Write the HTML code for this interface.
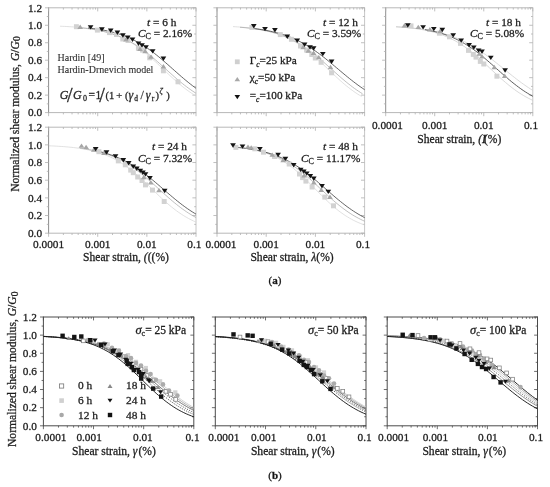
<!DOCTYPE html>
<html><head><meta charset="utf-8"><title>Figure</title>
<style>html,body{margin:0;padding:0;background:#fff}svg{display:block}text{font-family:"Liberation Serif",serif;stroke:#222;stroke-width:0.28px}</style>
</head><body>
<svg width="550" height="487" viewBox="0 0 550 487">
<rect width="550" height="487" fill="#fff"/>
<g stroke-linecap="butt" fill="none">
<line x1="48.60" y1="7.30" x2="48.60" y2="113.10" stroke="#8e8e8e" stroke-width="1.0"/>
<line x1="48.60" y1="7.80" x2="196.00" y2="7.80" stroke="#b8b8b8" stroke-width="1.0"/>
<line x1="196.00" y1="7.30" x2="196.00" y2="113.10" stroke="#c6c6c6" stroke-width="1.0"/>
<line x1="48.60" y1="112.60" x2="196.00" y2="112.60" stroke="#b8b8b8" stroke-width="1.0"/>
<path d="M48.60 112.60v3.6 M48.60 7.80v3.6 M97.73 112.60v3.6 M97.73 7.80v3.6 M146.87 112.60v3.6 M146.87 7.80v3.6 M196.00 112.60v3.6 M196.00 7.80v3.6 M63.39 112.60v1.8 M63.39 7.80v1.8 M72.04 112.60v1.8 M72.04 7.80v1.8 M78.18 112.60v1.8 M78.18 7.80v1.8 M82.94 112.60v1.8 M82.94 7.80v1.8 M86.83 112.60v1.8 M86.83 7.80v1.8 M90.12 112.60v1.8 M90.12 7.80v1.8 M92.97 112.60v1.8 M92.97 7.80v1.8 M95.49 112.60v1.8 M95.49 7.80v1.8 M112.52 112.60v1.8 M112.52 7.80v1.8 M121.18 112.60v1.8 M121.18 7.80v1.8 M127.31 112.60v1.8 M127.31 7.80v1.8 M132.08 112.60v1.8 M132.08 7.80v1.8 M135.97 112.60v1.8 M135.97 7.80v1.8 M139.26 112.60v1.8 M139.26 7.80v1.8 M142.11 112.60v1.8 M142.11 7.80v1.8 M144.62 112.60v1.8 M144.62 7.80v1.8 M161.66 112.60v1.8 M161.66 7.80v1.8 M170.31 112.60v1.8 M170.31 7.80v1.8 M176.45 112.60v1.8 M176.45 7.80v1.8 M181.21 112.60v1.8 M181.21 7.80v1.8 M185.10 112.60v1.8 M185.10 7.80v1.8 M188.39 112.60v1.8 M188.39 7.80v1.8 M191.24 112.60v1.8 M191.24 7.80v1.8 M193.75 112.60v1.8 M193.75 7.80v1.8 M48.60 7.80h-3.6 M196.00 7.80h-3.6 M48.60 16.53h-1.8 M196.00 16.53h-1.8 M48.60 25.27h-3.6 M196.00 25.27h-3.6 M48.60 34.00h-1.8 M196.00 34.00h-1.8 M48.60 42.73h-3.6 M196.00 42.73h-3.6 M48.60 51.47h-1.8 M196.00 51.47h-1.8 M48.60 60.20h-3.6 M196.00 60.20h-3.6 M48.60 68.93h-1.8 M196.00 68.93h-1.8 M48.60 77.67h-3.6 M196.00 77.67h-3.6 M48.60 86.40h-1.8 M196.00 86.40h-1.8 M48.60 95.13h-3.6 M196.00 95.13h-3.6 M48.60 103.87h-1.8 M196.00 103.87h-1.8 M48.60 112.60h-3.6 M196.00 112.60h-3.6" stroke="#b0b0b0" stroke-width="0.80"/>
</g>
<g stroke-linecap="butt" fill="none">
<line x1="217.00" y1="7.30" x2="217.00" y2="113.10" stroke="#8e8e8e" stroke-width="1.0"/>
<line x1="217.00" y1="7.80" x2="364.60" y2="7.80" stroke="#b8b8b8" stroke-width="1.0"/>
<line x1="364.60" y1="7.30" x2="364.60" y2="113.10" stroke="#c6c6c6" stroke-width="1.0"/>
<line x1="217.00" y1="112.60" x2="364.60" y2="112.60" stroke="#b8b8b8" stroke-width="1.0"/>
<path d="M217.00 112.60v3.6 M217.00 7.80v3.6 M266.20 112.60v3.6 M266.20 7.80v3.6 M315.40 112.60v3.6 M315.40 7.80v3.6 M364.60 112.60v3.6 M364.60 7.80v3.6 M231.81 112.60v1.8 M231.81 7.80v1.8 M240.47 112.60v1.8 M240.47 7.80v1.8 M246.62 112.60v1.8 M246.62 7.80v1.8 M251.39 112.60v1.8 M251.39 7.80v1.8 M255.29 112.60v1.8 M255.29 7.80v1.8 M258.58 112.60v1.8 M258.58 7.80v1.8 M261.43 112.60v1.8 M261.43 7.80v1.8 M263.95 112.60v1.8 M263.95 7.80v1.8 M281.01 112.60v1.8 M281.01 7.80v1.8 M289.67 112.60v1.8 M289.67 7.80v1.8 M295.82 112.60v1.8 M295.82 7.80v1.8 M300.59 112.60v1.8 M300.59 7.80v1.8 M304.49 112.60v1.8 M304.49 7.80v1.8 M307.78 112.60v1.8 M307.78 7.80v1.8 M310.63 112.60v1.8 M310.63 7.80v1.8 M313.15 112.60v1.8 M313.15 7.80v1.8 M330.21 112.60v1.8 M330.21 7.80v1.8 M338.87 112.60v1.8 M338.87 7.80v1.8 M345.02 112.60v1.8 M345.02 7.80v1.8 M349.79 112.60v1.8 M349.79 7.80v1.8 M353.69 112.60v1.8 M353.69 7.80v1.8 M356.98 112.60v1.8 M356.98 7.80v1.8 M359.83 112.60v1.8 M359.83 7.80v1.8 M362.35 112.60v1.8 M362.35 7.80v1.8 M217.00 7.80h-3.6 M364.60 7.80h-3.6 M217.00 16.53h-1.8 M364.60 16.53h-1.8 M217.00 25.27h-3.6 M364.60 25.27h-3.6 M217.00 34.00h-1.8 M364.60 34.00h-1.8 M217.00 42.73h-3.6 M364.60 42.73h-3.6 M217.00 51.47h-1.8 M364.60 51.47h-1.8 M217.00 60.20h-3.6 M364.60 60.20h-3.6 M217.00 68.93h-1.8 M364.60 68.93h-1.8 M217.00 77.67h-3.6 M364.60 77.67h-3.6 M217.00 86.40h-1.8 M364.60 86.40h-1.8 M217.00 95.13h-3.6 M364.60 95.13h-3.6 M217.00 103.87h-1.8 M364.60 103.87h-1.8 M217.00 112.60h-3.6 M364.60 112.60h-3.6" stroke="#b0b0b0" stroke-width="0.80"/>
</g>
<g stroke-linecap="butt" fill="none">
<line x1="385.70" y1="7.30" x2="385.70" y2="113.10" stroke="#8e8e8e" stroke-width="1.0"/>
<line x1="385.70" y1="7.80" x2="532.80" y2="7.80" stroke="#b8b8b8" stroke-width="1.0"/>
<line x1="532.80" y1="7.30" x2="532.80" y2="113.10" stroke="#c6c6c6" stroke-width="1.0"/>
<line x1="385.70" y1="112.60" x2="532.80" y2="112.60" stroke="#b8b8b8" stroke-width="1.0"/>
<path d="M385.70 112.60v3.6 M385.70 7.80v3.6 M434.73 112.60v3.6 M434.73 7.80v3.6 M483.77 112.60v3.6 M483.77 7.80v3.6 M532.80 112.60v3.6 M532.80 7.80v3.6 M400.46 112.60v1.8 M400.46 7.80v1.8 M409.09 112.60v1.8 M409.09 7.80v1.8 M415.22 112.60v1.8 M415.22 7.80v1.8 M419.97 112.60v1.8 M419.97 7.80v1.8 M423.86 112.60v1.8 M423.86 7.80v1.8 M427.14 112.60v1.8 M427.14 7.80v1.8 M429.98 112.60v1.8 M429.98 7.80v1.8 M432.49 112.60v1.8 M432.49 7.80v1.8 M449.49 112.60v1.8 M449.49 7.80v1.8 M458.13 112.60v1.8 M458.13 7.80v1.8 M464.25 112.60v1.8 M464.25 7.80v1.8 M469.01 112.60v1.8 M469.01 7.80v1.8 M472.89 112.60v1.8 M472.89 7.80v1.8 M476.17 112.60v1.8 M476.17 7.80v1.8 M479.01 112.60v1.8 M479.01 7.80v1.8 M481.52 112.60v1.8 M481.52 7.80v1.8 M498.53 112.60v1.8 M498.53 7.80v1.8 M507.16 112.60v1.8 M507.16 7.80v1.8 M513.29 112.60v1.8 M513.29 7.80v1.8 M518.04 112.60v1.8 M518.04 7.80v1.8 M521.92 112.60v1.8 M521.92 7.80v1.8 M525.20 112.60v1.8 M525.20 7.80v1.8 M528.05 112.60v1.8 M528.05 7.80v1.8 M530.56 112.60v1.8 M530.56 7.80v1.8 M385.70 7.80h-3.6 M532.80 7.80h-3.6 M385.70 16.53h-1.8 M532.80 16.53h-1.8 M385.70 25.27h-3.6 M532.80 25.27h-3.6 M385.70 34.00h-1.8 M532.80 34.00h-1.8 M385.70 42.73h-3.6 M532.80 42.73h-3.6 M385.70 51.47h-1.8 M532.80 51.47h-1.8 M385.70 60.20h-3.6 M532.80 60.20h-3.6 M385.70 68.93h-1.8 M532.80 68.93h-1.8 M385.70 77.67h-3.6 M532.80 77.67h-3.6 M385.70 86.40h-1.8 M532.80 86.40h-1.8 M385.70 95.13h-3.6 M532.80 95.13h-3.6 M385.70 103.87h-1.8 M532.80 103.87h-1.8 M385.70 112.60h-3.6 M532.80 112.60h-3.6" stroke="#b0b0b0" stroke-width="0.80"/>
</g>
<g stroke-linecap="butt" fill="none">
<line x1="48.60" y1="126.70" x2="48.60" y2="233.70" stroke="#8e8e8e" stroke-width="1.0"/>
<line x1="48.60" y1="127.20" x2="196.00" y2="127.20" stroke="#b8b8b8" stroke-width="1.0"/>
<line x1="196.00" y1="126.70" x2="196.00" y2="233.70" stroke="#c6c6c6" stroke-width="1.0"/>
<line x1="48.60" y1="233.20" x2="196.00" y2="233.20" stroke="#b8b8b8" stroke-width="1.0"/>
<path d="M48.60 233.20v3.6 M48.60 127.20v3.6 M97.73 233.20v3.6 M97.73 127.20v3.6 M146.87 233.20v3.6 M146.87 127.20v3.6 M196.00 233.20v3.6 M196.00 127.20v3.6 M63.39 233.20v1.8 M63.39 127.20v1.8 M72.04 233.20v1.8 M72.04 127.20v1.8 M78.18 233.20v1.8 M78.18 127.20v1.8 M82.94 233.20v1.8 M82.94 127.20v1.8 M86.83 233.20v1.8 M86.83 127.20v1.8 M90.12 233.20v1.8 M90.12 127.20v1.8 M92.97 233.20v1.8 M92.97 127.20v1.8 M95.49 233.20v1.8 M95.49 127.20v1.8 M112.52 233.20v1.8 M112.52 127.20v1.8 M121.18 233.20v1.8 M121.18 127.20v1.8 M127.31 233.20v1.8 M127.31 127.20v1.8 M132.08 233.20v1.8 M132.08 127.20v1.8 M135.97 233.20v1.8 M135.97 127.20v1.8 M139.26 233.20v1.8 M139.26 127.20v1.8 M142.11 233.20v1.8 M142.11 127.20v1.8 M144.62 233.20v1.8 M144.62 127.20v1.8 M161.66 233.20v1.8 M161.66 127.20v1.8 M170.31 233.20v1.8 M170.31 127.20v1.8 M176.45 233.20v1.8 M176.45 127.20v1.8 M181.21 233.20v1.8 M181.21 127.20v1.8 M185.10 233.20v1.8 M185.10 127.20v1.8 M188.39 233.20v1.8 M188.39 127.20v1.8 M191.24 233.20v1.8 M191.24 127.20v1.8 M193.75 233.20v1.8 M193.75 127.20v1.8 M48.60 127.20h-3.6 M196.00 127.20h-3.6 M48.60 136.03h-1.8 M196.00 136.03h-1.8 M48.60 144.87h-3.6 M196.00 144.87h-3.6 M48.60 153.70h-1.8 M196.00 153.70h-1.8 M48.60 162.53h-3.6 M196.00 162.53h-3.6 M48.60 171.37h-1.8 M196.00 171.37h-1.8 M48.60 180.20h-3.6 M196.00 180.20h-3.6 M48.60 189.03h-1.8 M196.00 189.03h-1.8 M48.60 197.87h-3.6 M196.00 197.87h-3.6 M48.60 206.70h-1.8 M196.00 206.70h-1.8 M48.60 215.53h-3.6 M196.00 215.53h-3.6 M48.60 224.37h-1.8 M196.00 224.37h-1.8 M48.60 233.20h-3.6 M196.00 233.20h-3.6" stroke="#b0b0b0" stroke-width="0.80"/>
</g>
<g stroke-linecap="butt" fill="none">
<line x1="217.00" y1="126.70" x2="217.00" y2="233.70" stroke="#8e8e8e" stroke-width="1.0"/>
<line x1="217.00" y1="127.20" x2="364.60" y2="127.20" stroke="#b8b8b8" stroke-width="1.0"/>
<line x1="364.60" y1="126.70" x2="364.60" y2="233.70" stroke="#c6c6c6" stroke-width="1.0"/>
<line x1="217.00" y1="233.20" x2="364.60" y2="233.20" stroke="#b8b8b8" stroke-width="1.0"/>
<path d="M217.00 233.20v3.6 M217.00 127.20v3.6 M266.20 233.20v3.6 M266.20 127.20v3.6 M315.40 233.20v3.6 M315.40 127.20v3.6 M364.60 233.20v3.6 M364.60 127.20v3.6 M231.81 233.20v1.8 M231.81 127.20v1.8 M240.47 233.20v1.8 M240.47 127.20v1.8 M246.62 233.20v1.8 M246.62 127.20v1.8 M251.39 233.20v1.8 M251.39 127.20v1.8 M255.29 233.20v1.8 M255.29 127.20v1.8 M258.58 233.20v1.8 M258.58 127.20v1.8 M261.43 233.20v1.8 M261.43 127.20v1.8 M263.95 233.20v1.8 M263.95 127.20v1.8 M281.01 233.20v1.8 M281.01 127.20v1.8 M289.67 233.20v1.8 M289.67 127.20v1.8 M295.82 233.20v1.8 M295.82 127.20v1.8 M300.59 233.20v1.8 M300.59 127.20v1.8 M304.49 233.20v1.8 M304.49 127.20v1.8 M307.78 233.20v1.8 M307.78 127.20v1.8 M310.63 233.20v1.8 M310.63 127.20v1.8 M313.15 233.20v1.8 M313.15 127.20v1.8 M330.21 233.20v1.8 M330.21 127.20v1.8 M338.87 233.20v1.8 M338.87 127.20v1.8 M345.02 233.20v1.8 M345.02 127.20v1.8 M349.79 233.20v1.8 M349.79 127.20v1.8 M353.69 233.20v1.8 M353.69 127.20v1.8 M356.98 233.20v1.8 M356.98 127.20v1.8 M359.83 233.20v1.8 M359.83 127.20v1.8 M362.35 233.20v1.8 M362.35 127.20v1.8 M217.00 127.20h-3.6 M364.60 127.20h-3.6 M217.00 136.03h-1.8 M364.60 136.03h-1.8 M217.00 144.87h-3.6 M364.60 144.87h-3.6 M217.00 153.70h-1.8 M364.60 153.70h-1.8 M217.00 162.53h-3.6 M364.60 162.53h-3.6 M217.00 171.37h-1.8 M364.60 171.37h-1.8 M217.00 180.20h-3.6 M364.60 180.20h-3.6 M217.00 189.03h-1.8 M364.60 189.03h-1.8 M217.00 197.87h-3.6 M364.60 197.87h-3.6 M217.00 206.70h-1.8 M364.60 206.70h-1.8 M217.00 215.53h-3.6 M364.60 215.53h-3.6 M217.00 224.37h-1.8 M364.60 224.37h-1.8 M217.00 233.20h-3.6 M364.60 233.20h-3.6" stroke="#b0b0b0" stroke-width="0.80"/>
</g>
<text x="42.10" y="11.53" text-anchor="end" font-size="11.3" fill="#1a1a1a">1.2</text>
<text x="42.10" y="29.00" text-anchor="end" font-size="11.3" fill="#1a1a1a">1.0</text>
<text x="42.10" y="46.46" text-anchor="end" font-size="11.3" fill="#1a1a1a">0.8</text>
<text x="42.10" y="63.93" text-anchor="end" font-size="11.3" fill="#1a1a1a">0.6</text>
<text x="42.10" y="81.40" text-anchor="end" font-size="11.3" fill="#1a1a1a">0.4</text>
<text x="42.10" y="98.86" text-anchor="end" font-size="11.3" fill="#1a1a1a">0.2</text>
<text x="42.10" y="116.33" text-anchor="end" font-size="11.3" fill="#1a1a1a">0.0</text>
<text x="42.10" y="130.93" text-anchor="end" font-size="11.3" fill="#1a1a1a">1.2</text>
<text x="42.10" y="148.60" text-anchor="end" font-size="11.3" fill="#1a1a1a">1.0</text>
<text x="42.10" y="166.26" text-anchor="end" font-size="11.3" fill="#1a1a1a">0.8</text>
<text x="42.10" y="183.93" text-anchor="end" font-size="11.3" fill="#1a1a1a">0.6</text>
<text x="42.10" y="201.60" text-anchor="end" font-size="11.3" fill="#1a1a1a">0.4</text>
<text x="42.10" y="219.26" text-anchor="end" font-size="11.3" fill="#1a1a1a">0.2</text>
<text x="42.10" y="236.93" text-anchor="end" font-size="11.3" fill="#1a1a1a">0.0</text>
<text x="387.50" y="129.33" text-anchor="middle" font-size="11.3" fill="#1a1a1a">0.0001</text>
<text x="434.73" y="129.33" text-anchor="middle" font-size="11.3" fill="#1a1a1a">0.001</text>
<text x="483.77" y="129.33" text-anchor="middle" font-size="11.3" fill="#1a1a1a">0.01</text>
<text x="531.00" y="129.33" text-anchor="middle" font-size="11.3" fill="#1a1a1a">0.1</text>
<text x="48.60" y="247.53" text-anchor="middle" font-size="11.3" fill="#1a1a1a">0.0001</text>
<text x="97.73" y="247.53" text-anchor="middle" font-size="11.3" fill="#1a1a1a">0.001</text>
<text x="146.87" y="247.53" text-anchor="middle" font-size="11.3" fill="#1a1a1a">0.01</text>
<text x="194.40" y="247.53" text-anchor="middle" font-size="11.3" fill="#1a1a1a">0.1</text>
<text x="221.00" y="247.53" text-anchor="middle" font-size="11.3" fill="#1a1a1a">0.0001</text>
<text x="266.20" y="247.53" text-anchor="middle" font-size="11.3" fill="#1a1a1a">0.001</text>
<text x="315.40" y="247.53" text-anchor="middle" font-size="11.3" fill="#1a1a1a">0.01</text>
<text x="363.00" y="247.53" text-anchor="middle" font-size="11.3" fill="#1a1a1a">0.1</text>
<text x="417.3" y="142.5" font-size="11.6" fill="#1a1a1a">Shear strain, <tspan font-style="italic">(I</tspan><tspan dx="-2">(%)</tspan></text>
<text x="83" y="261.4" font-size="11.6" fill="#1a1a1a">Shear strain, <tspan font-style="italic">(</tspan>((%)</text>
<text x="250.4" y="261.4" font-size="11.6" fill="#1a1a1a">Shear strain, <tspan font-style="italic">λ</tspan>(%)</text>
<text transform="translate(18.9,191.8) rotate(-90)" font-size="11.6" fill="#1a1a1a">Normalized shear modulus, <tspan font-style="italic">G</tspan>/<tspan font-style="italic">G</tspan><tspan font-size="9.5" dy="1.5">0</tspan></text>
<text x="147" y="25.6" font-size="11.3" fill="#1a1a1a"><tspan font-style="italic">t</tspan> = 6 h</text>
<text x="138" y="37" font-size="11.3" fill="#1a1a1a"><tspan font-style="italic">C</tspan><tspan font-size="8" dy="2">C</tspan><tspan dy="-2"> = 2.16%</tspan></text>
<text x="323" y="25.6" font-size="11.3" fill="#1a1a1a"><tspan font-style="italic">t</tspan> = 12 h</text>
<text x="307" y="37" font-size="11.3" fill="#1a1a1a"><tspan font-style="italic">C</tspan><tspan font-size="8" dy="2">C</tspan><tspan dy="-2"> = 3.59%</tspan></text>
<text x="486" y="25.6" font-size="11.3" fill="#1a1a1a"><tspan font-style="italic">t</tspan> = 18 h</text>
<text x="470" y="37" font-size="11.3" fill="#1a1a1a"><tspan font-style="italic">C</tspan><tspan font-size="8" dy="2">C</tspan><tspan dy="-2"> = 5.08%</tspan></text>
<text x="152" y="150" font-size="11.3" fill="#1a1a1a"><tspan font-style="italic">t</tspan> = 24 h</text>
<text x="138" y="161.5" font-size="11.3" fill="#1a1a1a"><tspan font-style="italic">C</tspan><tspan font-size="8" dy="2">C</tspan><tspan dy="-2"> = 7.32%</tspan></text>
<text x="323" y="150" font-size="11.3" fill="#1a1a1a"><tspan font-style="italic">t</tspan> = 48 h</text>
<text x="301" y="161.5" font-size="11.3" fill="#1a1a1a"><tspan font-style="italic">C</tspan><tspan font-size="8" dy="2">C</tspan><tspan dy="-2"> = 11.17%</tspan></text>
<text x="57.6" y="60.7" font-size="10" fill="#333" style="stroke-width:0.1px">Hardin [49]</text>
<text x="57.6" y="72.7" font-size="10" fill="#333" style="stroke-width:0.1px">Hardin-Drnevich model</text>
<rect x="234.90" y="59.40" width="4.8" height="4.8" fill="#cfcfcf"/>
<path d="M234.50 81.28L240.10 81.28L237.30 76.92Z" fill="#a8a8a8"/>
<path d="M234.50 94.92L240.10 94.92L237.30 99.28Z" fill="#111"/>
<text x="249.8" y="64.4" font-size="11.2" fill="#1a1a1a">Γ<tspan font-style="italic" font-size="7.5" dy="2.5">c</tspan><tspan dy="-2.5">=25 kPa</tspan></text>
<text x="249.8" y="81.1" font-size="11.2" fill="#1a1a1a">χ<tspan font-style="italic" font-size="7.5" dy="2.5">c</tspan><tspan dy="-2.5">=50 kPa</tspan></text>
<text x="249.8" y="99.1" font-size="11.2" fill="#1a1a1a">=<tspan font-style="italic" font-size="7.5" dy="2.5">c</tspan><tspan dy="-2.5">=100 kPa</tspan></text>
<text x="275" y="284.3" text-anchor="middle" font-size="11" fill="#111">(<tspan font-weight="bold">a</tspan>)</text>
<g stroke-linecap="butt" fill="none">
<line x1="43.40" y1="316.50" x2="43.40" y2="426.30" stroke="#4a4a4a" stroke-width="1.0"/>
<line x1="43.40" y1="317.00" x2="193.80" y2="317.00" stroke="#4a4a4a" stroke-width="1.0"/>
<line x1="193.80" y1="316.50" x2="193.80" y2="426.30" stroke="#4a4a4a" stroke-width="1.0"/>
<line x1="43.40" y1="425.80" x2="193.80" y2="425.80" stroke="#4a4a4a" stroke-width="1.0"/>
<path d="M43.40 425.80v3.4 M43.40 317.00v3.4 M93.53 425.80v3.4 M93.53 317.00v3.4 M143.67 425.80v3.4 M143.67 317.00v3.4 M193.80 425.80v3.4 M193.80 317.00v3.4 M58.49 425.80v1.8 M58.49 317.00v1.8 M67.32 425.80v1.8 M67.32 317.00v1.8 M73.58 425.80v1.8 M73.58 317.00v1.8 M78.44 425.80v1.8 M78.44 317.00v1.8 M82.41 425.80v1.8 M82.41 317.00v1.8 M85.77 425.80v1.8 M85.77 317.00v1.8 M88.67 425.80v1.8 M88.67 317.00v1.8 M91.24 425.80v1.8 M91.24 317.00v1.8 M108.62 425.80v1.8 M108.62 317.00v1.8 M117.45 425.80v1.8 M117.45 317.00v1.8 M123.72 425.80v1.8 M123.72 317.00v1.8 M128.58 425.80v1.8 M128.58 317.00v1.8 M132.54 425.80v1.8 M132.54 317.00v1.8 M135.90 425.80v1.8 M135.90 317.00v1.8 M138.81 425.80v1.8 M138.81 317.00v1.8 M141.37 425.80v1.8 M141.37 317.00v1.8 M158.76 425.80v1.8 M158.76 317.00v1.8 M167.59 425.80v1.8 M167.59 317.00v1.8 M173.85 425.80v1.8 M173.85 317.00v1.8 M178.71 425.80v1.8 M178.71 317.00v1.8 M182.68 425.80v1.8 M182.68 317.00v1.8 M186.03 425.80v1.8 M186.03 317.00v1.8 M188.94 425.80v1.8 M188.94 317.00v1.8 M191.51 425.80v1.8 M191.51 317.00v1.8 M43.40 317.00h-3.4 M193.80 317.00h-3.4 M43.40 326.07h-1.8 M193.80 326.07h-1.8 M43.40 335.13h-3.4 M193.80 335.13h-3.4 M43.40 344.20h-1.8 M193.80 344.20h-1.8 M43.40 353.27h-3.4 M193.80 353.27h-3.4 M43.40 362.33h-1.8 M193.80 362.33h-1.8 M43.40 371.40h-3.4 M193.80 371.40h-3.4 M43.40 380.47h-1.8 M193.80 380.47h-1.8 M43.40 389.53h-3.4 M193.80 389.53h-3.4 M43.40 398.60h-1.8 M193.80 398.60h-1.8 M43.40 407.67h-3.4 M193.80 407.67h-3.4 M43.40 416.73h-1.8 M193.80 416.73h-1.8 M43.40 425.80h-3.4 M193.80 425.80h-3.4" stroke="#4a4a4a" stroke-width="0.80"/>
</g>
<g stroke-linecap="butt" fill="none">
<line x1="215.30" y1="316.50" x2="215.30" y2="426.30" stroke="#4a4a4a" stroke-width="1.0"/>
<line x1="215.30" y1="317.00" x2="366.00" y2="317.00" stroke="#4a4a4a" stroke-width="1.0"/>
<line x1="366.00" y1="316.50" x2="366.00" y2="426.30" stroke="#4a4a4a" stroke-width="1.0"/>
<line x1="215.30" y1="425.80" x2="366.00" y2="425.80" stroke="#4a4a4a" stroke-width="1.0"/>
<path d="M215.30 425.80v3.4 M215.30 317.00v3.4 M265.53 425.80v3.4 M265.53 317.00v3.4 M315.77 425.80v3.4 M315.77 317.00v3.4 M366.00 425.80v3.4 M366.00 317.00v3.4 M230.42 425.80v1.8 M230.42 317.00v1.8 M239.27 425.80v1.8 M239.27 317.00v1.8 M245.54 425.80v1.8 M245.54 317.00v1.8 M250.41 425.80v1.8 M250.41 317.00v1.8 M254.39 425.80v1.8 M254.39 317.00v1.8 M257.75 425.80v1.8 M257.75 317.00v1.8 M260.67 425.80v1.8 M260.67 317.00v1.8 M263.23 425.80v1.8 M263.23 317.00v1.8 M280.66 425.80v1.8 M280.66 317.00v1.8 M289.50 425.80v1.8 M289.50 317.00v1.8 M295.78 425.80v1.8 M295.78 317.00v1.8 M300.64 425.80v1.8 M300.64 317.00v1.8 M304.62 425.80v1.8 M304.62 317.00v1.8 M307.99 425.80v1.8 M307.99 317.00v1.8 M310.90 425.80v1.8 M310.90 317.00v1.8 M313.47 425.80v1.8 M313.47 317.00v1.8 M330.89 425.80v1.8 M330.89 317.00v1.8 M339.73 425.80v1.8 M339.73 317.00v1.8 M346.01 425.80v1.8 M346.01 317.00v1.8 M350.88 425.80v1.8 M350.88 317.00v1.8 M354.86 425.80v1.8 M354.86 317.00v1.8 M358.22 425.80v1.8 M358.22 317.00v1.8 M361.13 425.80v1.8 M361.13 317.00v1.8 M363.70 425.80v1.8 M363.70 317.00v1.8 M215.30 317.00h-3.4 M366.00 317.00h-3.4 M215.30 326.07h-1.8 M366.00 326.07h-1.8 M215.30 335.13h-3.4 M366.00 335.13h-3.4 M215.30 344.20h-1.8 M366.00 344.20h-1.8 M215.30 353.27h-3.4 M366.00 353.27h-3.4 M215.30 362.33h-1.8 M366.00 362.33h-1.8 M215.30 371.40h-3.4 M366.00 371.40h-3.4 M215.30 380.47h-1.8 M366.00 380.47h-1.8 M215.30 389.53h-3.4 M366.00 389.53h-3.4 M215.30 398.60h-1.8 M366.00 398.60h-1.8 M215.30 407.67h-3.4 M366.00 407.67h-3.4 M215.30 416.73h-1.8 M366.00 416.73h-1.8 M215.30 425.80h-3.4 M366.00 425.80h-3.4" stroke="#4a4a4a" stroke-width="0.80"/>
</g>
<g stroke-linecap="butt" fill="none">
<line x1="387.20" y1="316.50" x2="387.20" y2="426.30" stroke="#4a4a4a" stroke-width="1.0"/>
<line x1="387.20" y1="317.00" x2="537.50" y2="317.00" stroke="#4a4a4a" stroke-width="1.0"/>
<line x1="537.50" y1="316.50" x2="537.50" y2="426.30" stroke="#4a4a4a" stroke-width="1.0"/>
<line x1="387.20" y1="425.80" x2="537.50" y2="425.80" stroke="#4a4a4a" stroke-width="1.0"/>
<path d="M387.20 425.80v3.4 M387.20 317.00v3.4 M437.30 425.80v3.4 M437.30 317.00v3.4 M487.40 425.80v3.4 M487.40 317.00v3.4 M537.50 425.80v3.4 M537.50 317.00v3.4 M402.28 425.80v1.8 M402.28 317.00v1.8 M411.10 425.80v1.8 M411.10 317.00v1.8 M417.36 425.80v1.8 M417.36 317.00v1.8 M422.22 425.80v1.8 M422.22 317.00v1.8 M426.19 425.80v1.8 M426.19 317.00v1.8 M429.54 425.80v1.8 M429.54 317.00v1.8 M432.44 425.80v1.8 M432.44 317.00v1.8 M435.01 425.80v1.8 M435.01 317.00v1.8 M452.38 425.80v1.8 M452.38 317.00v1.8 M461.20 425.80v1.8 M461.20 317.00v1.8 M467.46 425.80v1.8 M467.46 317.00v1.8 M472.32 425.80v1.8 M472.32 317.00v1.8 M476.29 425.80v1.8 M476.29 317.00v1.8 M479.64 425.80v1.8 M479.64 317.00v1.8 M482.54 425.80v1.8 M482.54 317.00v1.8 M485.11 425.80v1.8 M485.11 317.00v1.8 M502.48 425.80v1.8 M502.48 317.00v1.8 M511.30 425.80v1.8 M511.30 317.00v1.8 M517.56 425.80v1.8 M517.56 317.00v1.8 M522.42 425.80v1.8 M522.42 317.00v1.8 M526.39 425.80v1.8 M526.39 317.00v1.8 M529.74 425.80v1.8 M529.74 317.00v1.8 M532.64 425.80v1.8 M532.64 317.00v1.8 M535.21 425.80v1.8 M535.21 317.00v1.8 M387.20 317.00h-3.4 M537.50 317.00h-3.4 M387.20 326.07h-1.8 M537.50 326.07h-1.8 M387.20 335.13h-3.4 M537.50 335.13h-3.4 M387.20 344.20h-1.8 M537.50 344.20h-1.8 M387.20 353.27h-3.4 M537.50 353.27h-3.4 M387.20 362.33h-1.8 M537.50 362.33h-1.8 M387.20 371.40h-3.4 M537.50 371.40h-3.4 M387.20 380.47h-1.8 M537.50 380.47h-1.8 M387.20 389.53h-3.4 M537.50 389.53h-3.4 M387.20 398.60h-1.8 M537.50 398.60h-1.8 M387.20 407.67h-3.4 M537.50 407.67h-3.4 M387.20 416.73h-1.8 M537.50 416.73h-1.8 M387.20 425.80h-3.4 M537.50 425.80h-3.4" stroke="#4a4a4a" stroke-width="0.80"/>
</g>
<text x="36.90" y="320.73" text-anchor="end" font-size="11.3" fill="#1a1a1a">1.2</text>
<text x="36.90" y="338.86" text-anchor="end" font-size="11.3" fill="#1a1a1a">1.0</text>
<text x="36.90" y="357.00" text-anchor="end" font-size="11.3" fill="#1a1a1a">0.8</text>
<text x="36.90" y="375.13" text-anchor="end" font-size="11.3" fill="#1a1a1a">0.6</text>
<text x="36.90" y="393.26" text-anchor="end" font-size="11.3" fill="#1a1a1a">0.4</text>
<text x="36.90" y="411.40" text-anchor="end" font-size="11.3" fill="#1a1a1a">0.2</text>
<text x="36.90" y="429.53" text-anchor="end" font-size="11.3" fill="#1a1a1a">0.0</text>
<text x="50.90" y="441.03" text-anchor="middle" font-size="11.3" fill="#1a1a1a">0.0001</text>
<text x="89.10" y="441.03" text-anchor="middle" font-size="11.3" fill="#1a1a1a">0.001</text>
<text x="142.90" y="441.03" text-anchor="middle" font-size="11.3" fill="#1a1a1a">0.01</text>
<text x="192.50" y="441.03" text-anchor="middle" font-size="11.3" fill="#1a1a1a">0.1</text>
<text x="223.80" y="441.03" text-anchor="middle" font-size="11.3" fill="#1a1a1a">0.0001</text>
<text x="263.60" y="441.03" text-anchor="middle" font-size="11.3" fill="#1a1a1a">0.001</text>
<text x="316.80" y="441.03" text-anchor="middle" font-size="11.3" fill="#1a1a1a">0.01</text>
<text x="364.60" y="441.03" text-anchor="middle" font-size="11.3" fill="#1a1a1a">0.1</text>
<text x="393.60" y="441.03" text-anchor="middle" font-size="11.3" fill="#1a1a1a">0.0001</text>
<text x="435.40" y="441.03" text-anchor="middle" font-size="11.3" fill="#1a1a1a">0.001</text>
<text x="487.80" y="441.03" text-anchor="middle" font-size="11.3" fill="#1a1a1a">0.01</text>
<text x="536.00" y="441.03" text-anchor="middle" font-size="11.3" fill="#1a1a1a">0.1</text>
<text x="72.0" y="455" font-size="11.6" fill="#1a1a1a">Shear strain, <tspan font-style="italic">γ</tspan><tspan dx="1">(%)</tspan></text>
<text x="250.9" y="455" font-size="11.6" fill="#1a1a1a">Shear strain, <tspan font-style="italic">γ</tspan><tspan dx="1">(%)</tspan></text>
<text x="422.4" y="455" font-size="11.6" fill="#1a1a1a">Shear strain, <tspan font-style="italic">γ</tspan><tspan dx="1">(%)</tspan></text>
<text transform="translate(16,447) rotate(-90)" font-size="11.6" fill="#1a1a1a">Normalized shear modulus, <tspan font-style="italic">G</tspan>/<tspan font-style="italic">G</tspan><tspan font-size="9.5" dy="1.5">0</tspan></text>
<text x="135.4" y="333.7" font-size="11.5" fill="#1a1a1a"><tspan font-style="italic" font-size="12.5">σ</tspan><tspan font-size="8" dy="2">c</tspan><tspan dy="-2">= 25 kPa</tspan></text>
<text x="308" y="333.7" font-size="11.5" fill="#1a1a1a"><tspan font-style="italic" font-size="12.5">σ</tspan><tspan font-size="8" dy="2">c</tspan><tspan dy="-2">= 50 kPa</tspan></text>
<text x="470" y="333.7" font-size="11.5" fill="#1a1a1a"><tspan font-style="italic" font-size="12.5">σ</tspan><tspan font-size="8" dy="2">c</tspan><tspan dy="-2">= 100 kPa</tspan></text>
<text x="275" y="479.2" text-anchor="middle" font-size="11" fill="#111">(<tspan font-weight="bold">b</tspan>)</text>
<rect x="59.50" y="383.90" width="4.2" height="4.2" fill="#fff" stroke="#777" stroke-width="0.8"/>
<rect x="59.30" y="398.30" width="4.6" height="4.6" fill="#d0d0d0"/>
<circle cx="61.60" cy="415.00" r="2.30" fill="#a8a8a8"/>
<path d="M107.50 387.95L112.50 387.95L110.00 384.05Z" fill="#888"/>
<path d="M107.50 398.65L112.50 398.65L110.00 402.55Z" fill="#111"/>
<rect x="107.80" y="412.80" width="4.4" height="4.4" fill="#111"/>
<text x="78" y="389.4" font-size="11.4" fill="#1a1a1a">0 h</text>
<text x="78" y="404" font-size="11.4" fill="#1a1a1a">6 h</text>
<text x="78" y="418.6" font-size="11.4" fill="#1a1a1a">12 h</text>
<text x="126" y="389.4" font-size="11.4" fill="#1a1a1a">18 h</text>
<text x="126" y="404" font-size="11.4" fill="#1a1a1a">24 h</text>
<text x="126" y="418.6" font-size="11.4" fill="#1a1a1a">48 h</text>
<text x="59.8" y="98.6" font-size="12" font-style="italic" fill="#2a2a2a">G</text>
<text x="66.9" y="102.19999999999999" font-size="20" fill="#2a2a2a">/</text>
<text x="72.9" y="98.6" font-size="12" font-style="italic" fill="#2a2a2a">G</text>
<text x="82.9" y="100.8" font-size="8" fill="#2a2a2a">0</text>
<text x="88.6" y="98.6" font-size="11.5" fill="#2a2a2a">=</text>
<text x="95.6" y="98.6" font-size="11.5" fill="#2a2a2a">1</text>
<text x="99.2" y="102.19999999999999" font-size="20" fill="#2a2a2a">/</text>
<text x="105.6" y="98.6" font-size="10.5" fill="#2a2a2a">(1</text>
<text x="116.3" y="98.6" font-size="10.5" fill="#2a2a2a">+</text>
<text x="125.0" y="98.6" font-size="10.5" fill="#2a2a2a">(</text>
<text x="128.4" y="98.6" font-size="12" font-style="italic" fill="#2a2a2a">γ</text>
<text x="134.2" y="100.8" font-size="7.5" fill="#2a2a2a">d</text>
<text x="140.6" y="99.39999999999999" font-size="12" fill="#777">/</text>
<text x="145.8" y="98.6" font-size="12" font-style="italic" fill="#2a2a2a">γ</text>
<text x="151.8" y="100.8" font-size="7.5" fill="#2a2a2a">r</text>
<text x="155.6" y="98.6" font-size="10.5" fill="#2a2a2a">)</text>
<text x="159.6" y="94.0" font-size="8" font-style="italic" fill="#2a2a2a">ζ</text>
<text x="166.2" y="98.6" font-size="10.5" fill="#2a2a2a">)</text>
<polyline points="60.00,26.21 62.27,26.30 64.53,26.41 66.80,26.53 69.07,26.66 71.33,26.80 73.60,26.96 75.87,27.13 78.13,27.32 80.40,27.53 82.67,27.76 84.93,28.01 87.20,28.29 89.47,28.60 91.73,28.93 94.00,29.29 96.27,29.69 98.53,30.13 100.80,30.61 103.07,31.13 105.33,31.70 107.60,32.32 109.87,32.99 112.13,33.72 114.40,34.51 116.67,35.37 118.93,36.29 121.20,37.28 123.47,38.35 125.73,39.50 128.00,40.73 130.27,42.03 132.53,43.42 134.80,44.89 137.07,46.45 139.33,48.09 141.60,49.80 143.87,51.60 146.13,53.46 148.40,55.39 150.67,57.39 152.93,59.43 155.20,61.52 157.47,63.65 159.73,65.80 162.00,67.97 164.27,70.14 166.53,72.31 168.80,74.46 171.07,76.58 173.33,78.66 175.60,80.70 177.87,82.69 180.13,84.62 182.40,86.47 184.67,88.26 186.93,89.97 189.20,91.59 191.47,93.14 193.73,94.60 196.00,95.98" fill="none" stroke="#d4d4d4" stroke-width="0.7"/>
<polyline points="80.00,27.72 81.93,27.92 83.87,28.14 85.80,28.37 87.73,28.62 89.67,28.88 91.60,29.17 93.53,29.48 95.47,29.81 97.40,30.17 99.33,30.55 101.27,30.97 103.20,31.41 105.13,31.88 107.07,32.39 109.00,32.93 110.93,33.50 112.87,34.12 114.80,34.78 116.73,35.48 118.67,36.22 120.60,37.01 122.53,37.85 124.47,38.73 126.40,39.67 128.33,40.66 130.27,41.70 132.20,42.79 134.13,43.94 136.07,45.14 138.00,46.40 139.93,47.70 141.87,49.06 143.80,50.47 145.73,51.93 147.67,53.44 149.60,54.98 151.53,56.57 153.47,58.20 155.40,59.85 157.33,61.54 159.27,63.24 161.20,64.97 163.13,66.71 165.07,68.45 167.00,70.20 168.93,71.94 170.87,73.67 172.80,75.39 174.73,77.09 176.67,78.76 178.60,80.40 180.53,82.01 182.47,83.58 184.40,85.11 186.33,86.59 188.27,88.03 190.20,89.42 192.13,90.75 194.07,92.04 196.00,93.27" fill="none" stroke="#a4a4a4" stroke-width="0.7"/>
<polyline points="88.00,27.93 89.80,28.13 91.60,28.34 93.40,28.57 95.20,28.81 97.00,29.07 98.80,29.34 100.60,29.64 102.40,29.96 104.20,30.29 106.00,30.65 107.80,31.04 109.60,31.44 111.40,31.88 113.20,32.34 115.00,32.84 116.80,33.36 118.60,33.92 120.40,34.51 122.20,35.13 124.00,35.79 125.80,36.49 127.60,37.23 129.40,38.01 131.20,38.83 133.00,39.69 134.80,40.60 136.60,41.55 138.40,42.55 140.20,43.59 142.00,44.68 143.80,45.81 145.60,46.98 147.40,48.21 149.20,49.47 151.00,50.78 152.80,52.12 154.60,53.51 156.40,54.93 158.20,56.39 160.00,57.87 161.80,59.39 163.60,60.93 165.40,62.49 167.20,64.07 169.00,65.66 170.80,67.26 172.60,68.86 174.40,70.46 176.20,72.06 178.00,73.65 179.80,75.23 181.60,76.80 183.40,78.34 185.20,79.85 187.00,81.34 188.80,82.80 190.60,84.23 192.40,85.62 194.20,86.97 196.00,88.28" fill="none" stroke="#3c3c3c" stroke-width="0.8"/>
<rect x="73.92" y="24.22" width="4.968000000000001" height="4.968000000000001" fill="#d2d2d2"/>
<rect x="94.92" y="27.62" width="4.968000000000001" height="4.968000000000001" fill="#d2d2d2"/>
<rect x="107.02" y="30.12" width="4.968000000000001" height="4.968000000000001" fill="#d2d2d2"/>
<rect x="114.02" y="32.02" width="4.968000000000001" height="4.968000000000001" fill="#d2d2d2"/>
<rect x="120.32" y="36.52" width="4.968000000000001" height="4.968000000000001" fill="#d2d2d2"/>
<rect x="125.52" y="38.02" width="4.968000000000001" height="4.968000000000001" fill="#d2d2d2"/>
<rect x="135.92" y="45.82" width="4.968000000000001" height="4.968000000000001" fill="#d2d2d2"/>
<rect x="140.12" y="47.62" width="4.968000000000001" height="4.968000000000001" fill="#d2d2d2"/>
<rect x="147.22" y="55.32" width="4.968000000000001" height="4.968000000000001" fill="#d2d2d2"/>
<rect x="160.92" y="68.32" width="4.968000000000001" height="4.968000000000001" fill="#d2d2d2"/>
<rect x="175.52" y="79.32" width="4.968000000000001" height="4.968000000000001" fill="#d2d2d2"/>
<path d="M77.35 28.92L83.05 28.92L80.20 24.48Z" fill="#a6a6a6"/>
<path d="M123.15 41.42L128.85 41.42L126.00 36.98Z" fill="#a6a6a6"/>
<path d="M137.15 50.92L142.85 50.92L140.00 46.48Z" fill="#a6a6a6"/>
<path d="M142.35 53.22L148.05 53.22L145.20 48.78Z" fill="#a6a6a6"/>
<path d="M148.15 58.82L153.85 58.82L151.00 54.38Z" fill="#a6a6a6"/>
<path d="M160.55 68.42L166.25 68.42L163.40 63.98Z" fill="#a6a6a6"/>
<path d="M87.75 25.18L93.45 25.18L90.60 29.62Z" fill="#141414"/>
<path d="M99.05 27.28L104.75 27.28L101.90 31.72Z" fill="#141414"/>
<path d="M107.85 28.58L113.55 28.58L110.70 33.02Z" fill="#141414"/>
<path d="M114.55 30.58L120.25 30.58L117.40 35.02Z" fill="#141414"/>
<path d="M120.05 33.28L125.75 33.28L122.90 37.72Z" fill="#141414"/>
<path d="M124.95 35.38L130.65 35.38L127.80 39.82Z" fill="#141414"/>
<path d="M129.65 37.58L135.35 37.58L132.50 42.02Z" fill="#141414"/>
<path d="M135.65 41.58L141.35 41.58L138.50 46.02Z" fill="#141414"/>
<path d="M139.15 43.28L144.85 43.28L142.00 47.72Z" fill="#141414"/>
<path d="M143.15 45.18L148.85 45.18L146.00 49.62Z" fill="#141414"/>
<path d="M149.85 49.18L155.55 49.18L152.70 53.62Z" fill="#141414"/>
<path d="M160.55 56.48L166.25 56.48L163.40 60.92Z" fill="#141414"/>
<polyline points="233.00,26.59 235.14,26.72 237.29,26.86 239.43,27.01 241.57,27.18 243.72,27.37 245.86,27.57 248.00,27.79 250.15,28.03 252.29,28.30 254.43,28.59 256.58,28.90 258.72,29.24 260.86,29.62 263.01,30.03 265.15,30.47 267.29,30.95 269.44,31.47 271.58,32.04 273.72,32.65 275.87,33.31 278.01,34.03 280.15,34.80 282.30,35.63 284.44,36.53 286.58,37.48 288.73,38.51 290.87,39.60 293.01,40.77 295.16,42.01 297.30,43.32 299.44,44.71 301.59,46.18 303.73,47.71 305.87,49.32 308.02,51.00 310.16,52.74 312.30,54.55 314.45,56.41 316.59,58.33 318.73,60.29 320.88,62.28 323.02,64.31 325.16,66.35 327.31,68.41 329.45,70.47 331.59,72.52 333.74,74.55 335.88,76.57 338.02,78.54 340.17,80.48 342.31,82.37 344.45,84.21 346.60,85.99 348.74,87.70 350.88,89.34 353.03,90.92 355.17,92.42 357.31,93.84 359.46,95.20 361.60,96.47" fill="none" stroke="#d4d4d4" stroke-width="0.7"/>
<polyline points="240.00,27.25 242.04,27.41 244.08,27.60 246.12,27.80 248.17,28.01 250.21,28.25 252.25,28.50 254.29,28.77 256.33,29.07 258.38,29.38 260.42,29.73 262.46,30.10 264.50,30.50 266.54,30.93 268.58,31.39 270.62,31.89 272.67,32.42 274.71,32.99 276.75,33.61 278.79,34.27 280.83,34.97 282.88,35.72 284.92,36.52 286.96,37.37 289.00,38.28 291.04,39.24 293.08,40.26 295.12,41.33 297.17,42.47 299.21,43.66 301.25,44.91 303.29,46.22 305.33,47.60 307.38,49.02 309.42,50.51 311.46,52.05 313.50,53.64 315.54,55.27 317.58,56.95 319.62,58.67 321.67,60.43 323.71,62.21 325.75,64.02 327.79,65.84 329.83,67.68 331.88,69.52 333.92,71.35 335.96,73.18 338.00,75.00 340.04,76.79 342.08,78.55 344.12,80.29 346.17,81.98 348.21,83.64 350.25,85.24 352.29,86.80 354.33,88.30 356.38,89.75 358.42,91.15 360.46,92.48 362.50,93.76" fill="none" stroke="#a4a4a4" stroke-width="0.7"/>
<polyline points="252.00,28.30 253.88,28.52 255.75,28.76 257.63,29.01 259.51,29.28 261.38,29.57 263.26,29.87 265.14,30.20 267.01,30.55 268.89,30.92 270.77,31.32 272.64,31.74 274.52,32.19 276.40,32.67 278.27,33.17 280.15,33.71 282.03,34.28 283.90,34.88 285.78,35.52 287.66,36.20 289.53,36.91 291.41,37.67 293.29,38.46 295.16,39.29 297.04,40.17 298.92,41.09 300.79,42.05 302.67,43.06 304.55,44.11 306.42,45.20 308.30,46.34 310.18,47.52 312.05,48.75 313.93,50.01 315.81,51.32 317.68,52.67 319.56,54.05 321.44,55.47 323.31,56.92 325.19,58.40 327.07,59.90 328.94,61.43 330.82,62.98 332.70,64.54 334.57,66.12 336.45,67.70 338.33,69.28 340.20,70.87 342.08,72.45 343.96,74.02 345.83,75.57 347.71,77.11 349.59,78.63 351.46,80.12 353.34,81.59 355.22,83.03 357.09,84.43 358.97,85.80 360.85,87.13 362.72,88.42 364.60,89.67" fill="none" stroke="#3c3c3c" stroke-width="0.8"/>
<rect x="249.42" y="24.92" width="4.968000000000001" height="4.968000000000001" fill="#d2d2d2"/>
<rect x="277.82" y="32.12" width="4.968000000000001" height="4.968000000000001" fill="#d2d2d2"/>
<rect x="288.92" y="36.82" width="4.968000000000001" height="4.968000000000001" fill="#d2d2d2"/>
<rect x="298.02" y="43.52" width="4.968000000000001" height="4.968000000000001" fill="#d2d2d2"/>
<rect x="304.12" y="47.62" width="4.968000000000001" height="4.968000000000001" fill="#d2d2d2"/>
<rect x="309.32" y="52.02" width="4.968000000000001" height="4.968000000000001" fill="#d2d2d2"/>
<rect x="312.82" y="55.52" width="4.968000000000001" height="4.968000000000001" fill="#d2d2d2"/>
<rect x="318.62" y="59.82" width="4.968000000000001" height="4.968000000000001" fill="#d2d2d2"/>
<rect x="329.12" y="70.32" width="4.968000000000001" height="4.968000000000001" fill="#d2d2d2"/>
<path d="M300.25 49.32L305.95 49.32L303.10 44.88Z" fill="#a6a6a6"/>
<path d="M305.45 52.82L311.15 52.82L308.30 48.38Z" fill="#a6a6a6"/>
<path d="M310.75 54.92L316.45 54.92L313.60 50.48Z" fill="#a6a6a6"/>
<path d="M315.95 59.32L321.65 59.32L318.80 54.88Z" fill="#a6a6a6"/>
<path d="M327.65 69.22L333.35 69.22L330.50 64.78Z" fill="#a6a6a6"/>
<path d="M250.95 24.08L256.65 24.08L253.80 28.52Z" fill="#141414"/>
<path d="M262.15 26.88L267.85 26.88L265.00 31.32Z" fill="#141414"/>
<path d="M272.05 28.08L277.75 28.08L274.90 32.52Z" fill="#141414"/>
<path d="M284.45 34.58L290.15 34.58L287.30 39.02Z" fill="#141414"/>
<path d="M294.35 38.58L300.05 38.58L297.20 43.02Z" fill="#141414"/>
<path d="M301.75 42.58L307.45 42.58L304.60 47.02Z" fill="#141414"/>
<path d="M307.15 45.28L312.85 45.28L310.00 49.72Z" fill="#141414"/>
<path d="M310.75 46.28L316.45 46.28L313.60 50.72Z" fill="#141414"/>
<path d="M319.95 51.88L325.65 51.88L322.80 56.32Z" fill="#141414"/>
<path d="M328.75 59.58L334.45 59.58L331.60 64.02Z" fill="#141414"/>
<polyline points="396.00,26.73 398.28,26.87 400.56,27.04 402.84,27.22 405.12,27.41 407.40,27.63 409.68,27.86 411.96,28.12 414.24,28.41 416.52,28.72 418.80,29.06 421.08,29.43 423.36,29.84 425.64,30.28 427.92,30.76 430.20,31.29 432.48,31.87 434.76,32.49 437.04,33.17 439.32,33.90 441.60,34.70 443.88,35.56 446.16,36.48 448.44,37.48 450.72,38.54 453.00,39.69 455.28,40.91 457.56,42.21 459.84,43.59 462.12,45.05 464.40,46.59 466.68,48.21 468.96,49.91 471.24,51.68 473.52,53.53 475.80,55.43 478.08,57.40 480.36,59.42 482.64,61.48 484.92,63.58 487.20,65.70 489.48,67.84 491.76,69.98 494.04,72.12 496.32,74.24 498.60,76.34 500.88,78.40 503.16,80.42 505.44,82.38 507.72,84.29 510.00,86.14 512.28,87.91 514.56,89.61 516.84,91.24 519.12,92.78 521.40,94.24 523.68,95.63 525.96,96.93 528.24,98.15 530.52,99.30 532.80,100.37" fill="none" stroke="#c8c8c8" stroke-width="0.7"/>
<polyline points="396.00,26.82 398.28,26.95 400.56,27.10 402.84,27.25 405.12,27.43 407.40,27.61 409.68,27.81 411.96,28.03 414.24,28.27 416.52,28.52 418.80,28.80 421.08,29.10 423.36,29.42 425.64,29.77 427.92,30.15 430.20,30.56 432.48,31.00 434.76,31.47 437.04,31.97 439.32,32.52 441.60,33.10 443.88,33.73 446.16,34.40 448.44,35.12 450.72,35.89 453.00,36.70 455.28,37.57 457.56,38.50 459.84,39.48 462.12,40.52 464.40,41.62 466.68,42.78 468.96,43.99 471.24,45.27 473.52,46.61 475.80,48.01 478.08,49.47 480.36,50.98 482.64,52.55 484.92,54.16 487.20,55.83 489.48,57.53 491.76,59.28 494.04,61.06 496.32,62.86 498.60,64.69 500.88,66.53 503.16,68.38 505.44,70.24 507.72,72.08 510.00,73.92 512.28,75.74 514.56,77.53 516.84,79.30 519.12,81.03 521.40,82.72 523.68,84.37 525.96,85.96 528.24,87.51 530.52,89.00 532.80,90.43" fill="none" stroke="#cccccc" stroke-width="0.7"/>
<polyline points="425.00,29.62 426.80,29.94 428.59,30.28 430.39,30.64 432.19,31.02 433.98,31.43 435.78,31.86 437.58,32.33 439.37,32.82 441.17,33.34 442.97,33.90 444.76,34.49 446.56,35.12 448.36,35.78 450.15,36.48 451.95,37.22 453.75,38.00 455.54,38.82 457.34,39.68 459.14,40.59 460.93,41.55 462.73,42.54 464.53,43.59 466.32,44.68 468.12,45.81 469.92,46.99 471.71,48.22 473.51,49.48 475.31,50.79 477.10,52.14 478.90,53.53 480.70,54.96 482.49,56.42 484.29,57.91 486.09,59.43 487.88,60.97 489.68,62.54 491.48,64.12 493.27,65.71 495.07,67.31 496.87,68.92 498.66,70.53 500.46,72.13 502.26,73.73 504.05,75.31 505.85,76.87 507.65,78.42 509.44,79.94 511.24,81.43 513.04,82.89 514.83,84.31 516.63,85.70 518.43,87.05 520.22,88.37 522.02,89.63 523.82,90.86 525.61,92.04 527.41,93.17 529.21,94.26 531.00,95.31 532.80,96.31" fill="none" stroke="#4a4a4a" stroke-width="0.9"/>
<rect x="408.52" y="23.42" width="4.968000000000001" height="4.968000000000001" fill="#d2d2d2"/>
<rect x="436.92" y="30.72" width="4.968000000000001" height="4.968000000000001" fill="#d2d2d2"/>
<rect x="447.02" y="34.32" width="4.968000000000001" height="4.968000000000001" fill="#d2d2d2"/>
<rect x="458.02" y="40.92" width="4.968000000000001" height="4.968000000000001" fill="#d2d2d2"/>
<rect x="466.02" y="47.92" width="4.968000000000001" height="4.968000000000001" fill="#d2d2d2"/>
<rect x="470.82" y="51.92" width="4.968000000000001" height="4.968000000000001" fill="#d2d2d2"/>
<rect x="473.52" y="54.62" width="4.968000000000001" height="4.968000000000001" fill="#d2d2d2"/>
<rect x="477.82" y="58.92" width="4.968000000000001" height="4.968000000000001" fill="#d2d2d2"/>
<rect x="481.32" y="61.52" width="4.968000000000001" height="4.968000000000001" fill="#d2d2d2"/>
<rect x="494.42" y="73.72" width="4.968000000000001" height="4.968000000000001" fill="#d2d2d2"/>
<path d="M401.65 27.42L407.35 27.42L404.50 22.98Z" fill="#a6a6a6"/>
<path d="M415.45 29.12L421.15 29.12L418.30 24.68Z" fill="#a6a6a6"/>
<path d="M427.05 31.52L432.75 31.52L429.90 27.08Z" fill="#a6a6a6"/>
<path d="M437.25 33.22L442.95 33.22L440.10 28.78Z" fill="#a6a6a6"/>
<path d="M476.55 55.82L482.25 55.82L479.40 51.38Z" fill="#a6a6a6"/>
<path d="M479.15 58.42L484.85 58.42L482.00 53.98Z" fill="#a6a6a6"/>
<path d="M491.45 69.22L497.15 69.22L494.30 64.78Z" fill="#a6a6a6"/>
<path d="M501.85 77.92L507.55 77.92L504.70 73.48Z" fill="#a6a6a6"/>
<path d="M404.95 23.28L410.65 23.28L407.80 27.72Z" fill="#141414"/>
<path d="M420.25 25.18L425.95 25.18L423.10 29.62Z" fill="#141414"/>
<path d="M430.95 26.88L436.65 26.88L433.80 31.32Z" fill="#141414"/>
<path d="M439.45 27.78L445.15 27.78L442.30 32.22Z" fill="#141414"/>
<path d="M450.35 33.18L456.05 33.18L453.20 37.62Z" fill="#141414"/>
<path d="M458.35 38.38L464.05 38.38L461.20 42.82Z" fill="#141414"/>
<path d="M466.25 42.98L471.95 42.98L469.10 47.42Z" fill="#141414"/>
<path d="M470.95 45.38L476.65 45.38L473.80 49.82Z" fill="#141414"/>
<path d="M475.75 48.38L481.45 48.38L478.60 52.82Z" fill="#141414"/>
<path d="M479.15 49.58L484.85 49.58L482.00 54.02Z" fill="#141414"/>
<path d="M487.95 55.68L493.65 55.68L490.80 60.12Z" fill="#141414"/>
<path d="M502.25 68.28L507.95 68.28L505.10 72.72Z" fill="#141414"/>
<polyline points="49.00,145.80 51.45,145.90 53.90,146.02 56.35,146.15 58.80,146.30 61.25,146.46 63.70,146.63 66.15,146.83 68.60,147.05 71.05,147.29 73.50,147.56 75.95,147.85 78.40,148.18 80.85,148.54 83.30,148.94 85.75,149.39 88.20,149.87 90.65,150.41 93.10,151.00 95.55,151.64 98.00,152.35 100.45,153.12 102.90,153.96 105.35,154.88 107.80,155.88 110.25,156.97 112.70,158.14 115.15,159.40 117.60,160.76 120.05,162.22 122.50,163.78 124.95,165.43 127.40,167.18 129.85,169.03 132.30,170.97 134.75,173.00 137.20,175.11 139.65,177.29 142.10,179.54 144.55,181.84 147.00,184.17 149.45,186.54 151.90,188.92 154.35,191.31 156.80,193.68 159.25,196.02 161.70,198.32 164.15,200.57 166.60,202.76 169.05,204.88 171.50,206.91 173.95,208.86 176.40,210.72 178.85,212.48 181.30,214.14 183.75,215.71 186.20,217.17 188.65,218.54 191.10,219.81 193.55,220.99 196.00,222.09" fill="none" stroke="#d4d4d4" stroke-width="0.7"/>
<polyline points="80.00,148.15 81.93,148.41 83.87,148.70 85.80,149.00 87.73,149.32 89.67,149.67 91.60,150.05 93.53,150.45 95.47,150.89 97.40,151.35 99.33,151.84 101.27,152.37 103.20,152.94 105.13,153.54 107.07,154.19 109.00,154.87 110.93,155.60 112.87,156.38 114.80,157.20 116.73,158.07 118.67,158.99 120.60,159.97 122.53,160.99 124.47,162.07 126.40,163.20 128.33,164.38 130.27,165.62 132.20,166.92 134.13,168.26 136.07,169.66 138.00,171.11 139.93,172.60 141.87,174.14 143.80,175.72 145.73,177.34 147.67,178.99 149.60,180.68 151.53,182.39 153.47,184.12 155.40,185.87 157.33,187.62 159.27,189.38 161.20,191.14 163.13,192.89 165.07,194.63 167.00,196.36 168.93,198.06 170.87,199.73 172.80,201.37 174.73,202.98 176.67,204.54 178.60,206.06 180.53,207.54 182.47,208.97 184.40,210.34 186.33,211.67 188.27,212.94 190.20,214.16 192.13,215.32 194.07,216.43 196.00,217.49" fill="none" stroke="#a4a4a4" stroke-width="0.7"/>
<polyline points="95.00,150.54 96.68,150.90 98.37,151.29 100.05,151.69 101.73,152.12 103.42,152.57 105.10,153.05 106.78,153.55 108.47,154.09 110.15,154.65 111.83,155.24 113.52,155.86 115.20,156.51 116.88,157.20 118.57,157.92 120.25,158.67 121.93,159.46 123.62,160.28 125.30,161.14 126.98,162.04 128.67,162.97 130.35,163.94 132.03,164.95 133.72,165.99 135.40,167.08 137.08,168.19 138.77,169.35 140.45,170.54 142.13,171.76 143.82,173.01 145.50,174.29 147.18,175.61 148.87,176.94 150.55,178.31 152.23,179.69 153.92,181.10 155.60,182.52 157.28,183.95 158.97,185.40 160.65,186.86 162.33,188.32 164.02,189.78 165.70,191.24 167.38,192.69 169.07,194.14 170.75,195.57 172.43,196.99 174.12,198.40 175.80,199.78 177.48,201.15 179.17,202.48 180.85,203.80 182.53,205.08 184.22,206.33 185.90,207.55 187.58,208.74 189.27,209.89 190.95,211.01 192.63,212.09 194.32,213.13 196.00,214.14" fill="none" stroke="#3c3c3c" stroke-width="0.8"/>
<rect x="96.42" y="149.22" width="4.968000000000001" height="4.968000000000001" fill="#d2d2d2"/>
<rect x="115.82" y="158.42" width="4.968000000000001" height="4.968000000000001" fill="#d2d2d2"/>
<rect x="122.82" y="162.32" width="4.968000000000001" height="4.968000000000001" fill="#d2d2d2"/>
<rect x="128.22" y="167.62" width="4.968000000000001" height="4.968000000000001" fill="#d2d2d2"/>
<rect x="130.82" y="170.22" width="4.968000000000001" height="4.968000000000001" fill="#d2d2d2"/>
<rect x="135.22" y="174.52" width="4.968000000000001" height="4.968000000000001" fill="#d2d2d2"/>
<rect x="139.52" y="178.02" width="4.968000000000001" height="4.968000000000001" fill="#d2d2d2"/>
<rect x="143.02" y="182.42" width="4.968000000000001" height="4.968000000000001" fill="#d2d2d2"/>
<rect x="150.02" y="187.62" width="4.968000000000001" height="4.968000000000001" fill="#d2d2d2"/>
<rect x="161.72" y="199.02" width="4.968000000000001" height="4.968000000000001" fill="#d2d2d2"/>
<path d="M78.65 147.82L84.35 147.82L81.50 143.38Z" fill="#a6a6a6"/>
<path d="M83.25 149.12L88.95 149.12L86.10 144.68Z" fill="#a6a6a6"/>
<path d="M90.95 151.72L96.65 151.72L93.80 147.28Z" fill="#a6a6a6"/>
<path d="M101.15 154.92L106.85 154.92L104.00 150.48Z" fill="#a6a6a6"/>
<path d="M140.95 179.22L146.65 179.22L143.80 174.78Z" fill="#a6a6a6"/>
<path d="M147.95 184.52L153.65 184.52L150.80 180.08Z" fill="#a6a6a6"/>
<path d="M156.15 192.32L161.85 192.32L159.00 187.88Z" fill="#a6a6a6"/>
<path d="M92.85 146.88L98.55 146.88L95.70 151.32Z" fill="#141414"/>
<path d="M103.65 150.28L109.35 150.28L106.50 154.72Z" fill="#141414"/>
<path d="M112.65 154.28L118.35 154.28L115.50 158.72Z" fill="#141414"/>
<path d="M120.45 157.98L126.15 157.98L123.30 162.42Z" fill="#141414"/>
<path d="M125.85 161.08L131.55 161.08L128.70 165.52Z" fill="#141414"/>
<path d="M130.45 164.38L136.15 164.38L133.30 168.82Z" fill="#141414"/>
<path d="M133.95 166.58L139.65 166.58L136.80 171.02Z" fill="#141414"/>
<path d="M137.45 168.68L143.15 168.68L140.30 173.12Z" fill="#141414"/>
<path d="M140.05 170.48L145.75 170.48L142.90 174.92Z" fill="#141414"/>
<path d="M142.65 172.18L148.35 172.18L145.50 176.62Z" fill="#141414"/>
<path d="M147.05 176.08L152.75 176.08L149.90 180.52Z" fill="#141414"/>
<path d="M161.85 188.78L167.55 188.78L164.70 193.22Z" fill="#141414"/>
<polyline points="236.00,147.08 238.14,147.31 240.29,147.55 242.43,147.82 244.57,148.12 246.72,148.44 248.86,148.80 251.00,149.19 253.15,149.61 255.29,150.08 257.43,150.58 259.58,151.14 261.72,151.74 263.86,152.39 266.01,153.10 268.15,153.87 270.29,154.70 272.44,155.60 274.58,156.57 276.72,157.61 278.87,158.73 281.01,159.93 283.15,161.20 285.30,162.56 287.44,164.00 289.58,165.53 291.73,167.14 293.87,168.82 296.01,170.59 298.16,172.43 300.30,174.34 302.44,176.32 304.59,178.35 306.73,180.43 308.87,182.55 311.02,184.70 313.16,186.87 315.30,189.06 317.45,191.24 319.59,193.41 321.73,195.56 323.88,197.68 326.02,199.76 328.16,201.79 330.31,203.76 332.45,205.67 334.59,207.51 336.74,209.28 338.88,210.96 341.02,212.57 343.17,214.09 345.31,215.53 347.45,216.89 349.60,218.16 351.74,219.36 353.88,220.48 356.03,221.52 358.17,222.48 360.31,223.38 362.46,224.21 364.60,224.98" fill="none" stroke="#d4d4d4" stroke-width="0.7"/>
<polyline points="247.00,148.60 248.96,148.91 250.92,149.24 252.88,149.60 254.84,149.98 256.80,150.40 258.76,150.84 260.72,151.32 262.68,151.84 264.64,152.39 266.60,152.98 268.56,153.61 270.52,154.28 272.48,155.00 274.44,155.77 276.40,156.59 278.36,157.46 280.32,158.38 282.28,159.35 284.24,160.39 286.20,161.47 288.16,162.62 290.12,163.83 292.08,165.09 294.04,166.41 296.00,167.79 297.96,169.22 299.92,170.71 301.88,172.25 303.84,173.84 305.80,175.48 307.76,177.15 309.72,178.87 311.68,180.62 313.64,182.39 315.60,184.19 317.56,186.01 319.52,187.83 321.48,189.66 323.44,191.49 325.40,193.31 327.36,195.11 329.32,196.90 331.28,198.65 333.24,200.38 335.20,202.07 337.16,203.72 339.12,205.32 341.08,206.88 343.04,208.39 345.00,209.84 346.96,211.23 348.92,212.57 350.88,213.85 352.84,215.08 354.80,216.24 356.76,217.35 358.72,218.40 360.68,219.39 362.64,220.33 364.60,221.21" fill="none" stroke="#a4a4a4" stroke-width="0.7"/>
<polyline points="233.00,147.02 235.19,147.21 237.39,147.41 239.58,147.64 241.77,147.88 243.97,148.15 246.16,148.43 248.35,148.75 250.55,149.08 252.74,149.45 254.93,149.84 257.13,150.27 259.32,150.72 261.51,151.22 263.71,151.75 265.90,152.33 268.09,152.94 270.29,153.61 272.48,154.32 274.67,155.08 276.87,155.89 279.06,156.76 281.25,157.69 283.45,158.68 285.64,159.72 287.83,160.83 290.03,162.00 292.22,163.24 294.41,164.54 296.61,165.91 298.80,167.34 300.99,168.83 303.19,170.38 305.38,171.99 307.57,173.66 309.77,175.37 311.96,177.14 314.15,178.94 316.35,180.78 318.54,182.66 320.73,184.55 322.93,186.46 325.12,188.39 327.31,190.31 329.51,192.23 331.70,194.14 333.89,196.03 336.09,197.89 338.28,199.72 340.47,201.51 342.67,203.26 344.86,204.96 347.05,206.61 349.25,208.20 351.44,209.74 353.63,211.21 355.83,212.62 358.02,213.96 360.21,215.24 362.41,216.46 364.60,217.61" fill="none" stroke="#3c3c3c" stroke-width="0.8"/>
<rect x="233.42" y="144.92" width="4.968000000000001" height="4.968000000000001" fill="#d2d2d2"/>
<rect x="252.32" y="146.32" width="4.968000000000001" height="4.968000000000001" fill="#d2d2d2"/>
<rect x="261.02" y="149.72" width="4.968000000000001" height="4.968000000000001" fill="#d2d2d2"/>
<rect x="272.02" y="154.02" width="4.968000000000001" height="4.968000000000001" fill="#d2d2d2"/>
<rect x="286.72" y="161.52" width="4.968000000000001" height="4.968000000000001" fill="#d2d2d2"/>
<rect x="297.02" y="171.52" width="4.968000000000001" height="4.968000000000001" fill="#d2d2d2"/>
<rect x="300.12" y="175.12" width="4.968000000000001" height="4.968000000000001" fill="#d2d2d2"/>
<rect x="303.42" y="178.62" width="4.968000000000001" height="4.968000000000001" fill="#d2d2d2"/>
<rect x="309.62" y="184.52" width="4.968000000000001" height="4.968000000000001" fill="#d2d2d2"/>
<rect x="322.32" y="194.62" width="4.968000000000001" height="4.968000000000001" fill="#d2d2d2"/>
<rect x="331.02" y="203.32" width="4.968000000000001" height="4.968000000000001" fill="#d2d2d2"/>
<path d="M245.15 148.82L250.85 148.82L248.00 144.38Z" fill="#a6a6a6"/>
<path d="M248.35 149.62L254.05 149.62L251.20 145.18Z" fill="#a6a6a6"/>
<path d="M269.45 156.82L275.15 156.82L272.30 152.38Z" fill="#a6a6a6"/>
<path d="M280.35 162.22L286.05 162.22L283.20 157.78Z" fill="#a6a6a6"/>
<path d="M301.35 177.52L307.05 177.52L304.20 173.08Z" fill="#a6a6a6"/>
<path d="M310.95 184.52L316.65 184.52L313.80 180.08Z" fill="#a6a6a6"/>
<path d="M318.45 192.02L324.15 192.02L321.30 187.58Z" fill="#a6a6a6"/>
<path d="M327.15 199.02L332.85 199.02L330.00 194.58Z" fill="#a6a6a6"/>
<path d="M230.15 143.28L235.85 143.28L233.00 147.72Z" fill="#141414"/>
<path d="M239.65 144.38L245.35 144.38L242.50 148.82Z" fill="#141414"/>
<path d="M257.05 146.88L262.75 146.88L259.90 151.32Z" fill="#141414"/>
<path d="M275.25 152.68L280.95 152.68L278.10 157.12Z" fill="#141414"/>
<path d="M282.55 156.68L288.25 156.68L285.40 161.12Z" fill="#141414"/>
<path d="M290.85 163.08L296.55 163.08L293.70 167.52Z" fill="#141414"/>
<path d="M297.85 167.68L303.55 167.68L300.70 172.12Z" fill="#141414"/>
<path d="M300.95 169.38L306.65 169.38L303.80 173.82Z" fill="#141414"/>
<path d="M303.95 171.38L309.65 171.38L306.80 175.82Z" fill="#141414"/>
<path d="M307.45 173.98L313.15 173.98L310.30 178.42Z" fill="#141414"/>
<path d="M310.95 176.58L316.65 176.58L313.80 181.02Z" fill="#141414"/>
<path d="M319.15 184.08L324.85 184.08L322.00 188.52Z" fill="#141414"/>
<path d="M325.45 189.68L331.15 189.68L328.30 194.12Z" fill="#141414"/>
<polyline points="43.40,336.33 45.91,336.44 48.41,336.57 50.92,336.71 53.43,336.87 55.93,337.04 58.44,337.22 60.95,337.42 63.45,337.64 65.96,337.89 68.47,338.15 70.97,338.44 73.48,338.76 75.99,339.10 78.49,339.48 81.00,339.89 83.51,340.33 86.01,340.82 88.52,341.35 91.03,341.92 93.53,342.54 96.04,343.21 98.55,343.94 101.05,344.72 103.56,345.56 106.07,346.47 108.57,347.45 111.08,348.49 113.59,349.61 116.09,350.80 118.60,352.07 121.11,353.41 123.61,354.84 126.12,356.34 128.63,357.92 131.13,359.57 133.64,361.30 136.15,363.10 138.65,364.97 141.16,366.90 143.67,368.89 146.17,370.92 148.68,372.99 151.19,375.10 153.69,377.23 156.20,379.38 158.71,381.52 161.21,383.67 163.72,385.80 166.23,387.91 168.73,389.98 171.24,392.02 173.75,394.00 176.25,395.93 178.76,397.80 181.27,399.60 183.77,401.33 186.28,402.99 188.79,404.57 191.29,406.08 193.80,407.50" fill="none" stroke="#c8c8c8" stroke-width="0.8"/>
<polyline points="43.40,336.39 45.91,336.52 48.41,336.65 50.92,336.80 53.43,336.97 55.93,337.15 58.44,337.34 60.95,337.56 63.45,337.80 65.96,338.05 68.47,338.34 70.97,338.65 73.48,338.98 75.99,339.35 78.49,339.75 81.00,340.19 83.51,340.67 86.01,341.18 88.52,341.75 91.03,342.36 93.53,343.02 96.04,343.74 98.55,344.51 101.05,345.34 103.56,346.24 106.07,347.21 108.57,348.25 111.08,349.36 113.59,350.54 116.09,351.80 118.60,353.14 121.11,354.56 123.61,356.06 126.12,357.64 128.63,359.30 131.13,361.03 133.64,362.83 136.15,364.71 138.65,366.64 141.16,368.64 143.67,370.68 146.17,372.77 148.68,374.89 151.19,377.03 153.69,379.19 156.20,381.36 158.71,383.52 161.21,385.67 163.72,387.80 166.23,389.89 168.73,391.94 171.24,393.94 173.75,395.89 176.25,397.77 178.76,399.59 181.27,401.34 183.77,403.01 186.28,404.60 188.79,406.11 191.29,407.55 193.80,408.90" fill="none" stroke="#9c9c9c" stroke-width="0.8"/>
<polyline points="43.40,336.54 45.91,336.68 48.41,336.83 50.92,337.00 53.43,337.18 55.93,337.38 58.44,337.60 60.95,337.84 63.45,338.10 65.96,338.39 68.47,338.70 70.97,339.04 73.48,339.42 75.99,339.83 78.49,340.27 81.00,340.75 83.51,341.28 86.01,341.85 88.52,342.47 91.03,343.14 93.53,343.87 96.04,344.65 98.55,345.50 101.05,346.41 103.56,347.39 106.07,348.44 108.57,349.56 111.08,350.76 113.59,352.03 116.09,353.39 118.60,354.82 121.11,356.34 123.61,357.93 126.12,359.60 128.63,361.34 131.13,363.16 133.64,365.05 136.15,366.99 138.65,369.00 141.16,371.05 143.67,373.14 146.17,375.27 148.68,377.42 151.19,379.58 153.69,381.75 156.20,383.91 158.71,386.06 161.21,388.18 163.72,390.26 166.23,392.31 168.73,394.30 171.24,396.24 173.75,398.11 176.25,399.91 178.76,401.64 181.27,403.30 183.77,404.88 186.28,406.38 188.79,407.80 191.29,409.14 193.80,410.40" fill="none" stroke="#555" stroke-width="0.8"/>
<polyline points="43.40,336.41 45.91,336.54 48.41,336.68 50.92,336.84 53.43,337.02 55.93,337.21 58.44,337.43 60.95,337.66 63.45,337.92 65.96,338.20 68.47,338.52 70.97,338.86 73.48,339.23 75.99,339.64 78.49,340.09 81.00,340.59 83.51,341.12 86.01,341.71 88.52,342.35 91.03,343.04 93.53,343.79 96.04,344.61 98.55,345.50 101.05,346.45 103.56,347.48 106.07,348.59 108.57,349.78 111.08,351.05 113.59,352.41 116.09,353.86 118.60,355.39 121.11,357.01 123.61,358.72 126.12,360.51 128.63,362.38 131.13,364.32 133.64,366.34 136.15,368.42 138.65,370.56 141.16,372.75 143.67,374.97 146.17,377.22 148.68,379.49 151.19,381.76 153.69,384.02 156.20,386.27 158.71,388.49 161.21,390.67 163.72,392.80 166.23,394.87 168.73,396.88 171.24,398.82 173.75,400.68 176.25,402.46 178.76,404.15 181.27,405.76 183.77,407.28 186.28,408.71 188.79,410.06 191.29,411.32 193.80,412.50" fill="none" stroke="#444" stroke-width="0.8" stroke-dasharray="1.2 1.2"/>
<polyline points="43.40,336.42 45.91,336.56 48.41,336.71 50.92,336.87 53.43,337.06 55.93,337.26 58.44,337.49 60.95,337.74 63.45,338.01 65.96,338.31 68.47,338.64 70.97,339.01 73.48,339.41 75.99,339.85 78.49,340.33 81.00,340.86 83.51,341.44 86.01,342.07 88.52,342.76 91.03,343.51 93.53,344.33 96.04,345.21 98.55,346.18 101.05,347.21 103.56,348.33 106.07,349.54 108.57,350.83 111.08,352.21 113.59,353.69 116.09,355.25 118.60,356.91 121.11,358.66 123.61,360.50 126.12,362.43 128.63,364.43 131.13,366.51 133.64,368.66 136.15,370.86 138.65,373.11 141.16,375.40 143.67,377.72 146.17,380.05 148.68,382.39 151.19,384.71 153.69,387.01 156.20,389.28 158.71,391.50 161.21,393.67 163.72,395.77 166.23,397.81 168.73,399.76 171.24,401.63 173.75,403.41 176.25,405.10 178.76,406.70 181.27,408.21 183.77,409.62 186.28,410.95 188.79,412.18 191.29,413.33 193.80,414.40" fill="none" stroke="#333" stroke-width="0.8" stroke-dasharray="1.2 1.2"/>
<polyline points="43.40,336.37 45.91,336.50 48.41,336.66 50.92,336.83 53.43,337.02 55.93,337.23 58.44,337.46 60.95,337.72 63.45,338.01 65.96,338.32 68.47,338.67 70.97,339.06 73.48,339.49 75.99,339.96 78.49,340.48 81.00,341.05 83.51,341.68 86.01,342.36 88.52,343.12 91.03,343.94 93.53,344.84 96.04,345.82 98.55,346.88 101.05,348.03 103.56,349.28 106.07,350.61 108.57,352.05 111.08,353.59 113.59,355.23 116.09,356.98 118.60,358.82 121.11,360.76 123.61,362.80 126.12,364.92 128.63,367.12 131.13,369.39 133.64,371.73 136.15,374.11 138.65,376.53 141.16,378.97 143.67,381.42 146.17,383.87 148.68,386.29 151.19,388.69 153.69,391.03 156.20,393.32 158.71,395.54 161.21,397.68 163.72,399.73 166.23,401.69 168.73,403.56 171.24,405.32 173.75,406.99 176.25,408.55 178.76,410.01 181.27,411.37 183.77,412.64 186.28,413.81 188.79,414.89 191.29,415.88 193.80,416.80" fill="none" stroke="#111" stroke-width="0.9"/>
<rect x="91.78" y="339.12" width="4.232" height="4.232" fill="#d2d2d2"/>
<rect x="105.58" y="342.18" width="4.232" height="4.232" fill="#d2d2d2"/>
<rect x="116.48" y="348.25" width="4.232" height="4.232" fill="#d2d2d2"/>
<rect x="125.88" y="353.00" width="4.232" height="4.232" fill="#d2d2d2"/>
<rect x="133.88" y="359.78" width="4.232" height="4.232" fill="#d2d2d2"/>
<rect x="143.68" y="365.90" width="4.232" height="4.232" fill="#d2d2d2"/>
<rect x="157.98" y="379.20" width="4.232" height="4.232" fill="#d2d2d2"/>
<rect x="173.18" y="390.29" width="4.232" height="4.232" fill="#d2d2d2"/>
<rect x="81.56" y="339.02" width="3.68" height="3.68" fill="#fff" stroke="#808080" stroke-width="0.75"/>
<rect x="99.16" y="342.75" width="3.68" height="3.68" fill="#fff" stroke="#808080" stroke-width="0.75"/>
<rect x="111.16" y="349.19" width="3.68" height="3.68" fill="#fff" stroke="#808080" stroke-width="0.75"/>
<rect x="122.16" y="354.94" width="3.68" height="3.68" fill="#fff" stroke="#808080" stroke-width="0.75"/>
<rect x="131.16" y="362.62" width="3.68" height="3.68" fill="#fff" stroke="#808080" stroke-width="0.75"/>
<rect x="139.16" y="367.48" width="3.68" height="3.68" fill="#fff" stroke="#808080" stroke-width="0.75"/>
<rect x="145.16" y="373.73" width="3.68" height="3.68" fill="#fff" stroke="#808080" stroke-width="0.75"/>
<rect x="151.86" y="378.11" width="3.68" height="3.68" fill="#fff" stroke="#808080" stroke-width="0.75"/>
<rect x="164.06" y="389.50" width="3.68" height="3.68" fill="#fff" stroke="#808080" stroke-width="0.75"/>
<rect x="168.66" y="392.43" width="3.68" height="3.68" fill="#fff" stroke="#808080" stroke-width="0.75"/>
<rect x="173.86" y="397.58" width="3.68" height="3.68" fill="#fff" stroke="#808080" stroke-width="0.75"/>
<circle cx="88.00" cy="340.03" r="2.28" fill="#ababab"/>
<circle cx="104.00" cy="343.41" r="2.28" fill="#ababab"/>
<circle cx="112.00" cy="347.88" r="2.28" fill="#ababab"/>
<circle cx="119.00" cy="350.76" r="2.28" fill="#ababab"/>
<circle cx="126.00" cy="356.26" r="2.28" fill="#ababab"/>
<circle cx="131.00" cy="358.13" r="2.28" fill="#ababab"/>
<circle cx="136.00" cy="362.99" r="2.28" fill="#ababab"/>
<circle cx="141.00" cy="365.51" r="2.28" fill="#ababab"/>
<circle cx="146.00" cy="370.72" r="2.28" fill="#ababab"/>
<circle cx="150.60" cy="373.93" r="2.28" fill="#ababab"/>
<circle cx="156.00" cy="379.89" r="2.28" fill="#ababab"/>
<circle cx="163.00" cy="384.39" r="2.28" fill="#ababab"/>
<circle cx="169.00" cy="390.56" r="2.28" fill="#ababab"/>
<circle cx="177.40" cy="395.61" r="2.28" fill="#ababab"/>
<path d="M66.20 340.10L71.20 340.10L68.70 336.20Z" fill="#888"/>
<path d="M95.50 345.45L100.50 345.45L98.00 341.55Z" fill="#888"/>
<path d="M107.50 351.74L112.50 351.74L110.00 347.84Z" fill="#888"/>
<path d="M118.50 357.49L123.50 357.49L121.00 353.59Z" fill="#888"/>
<path d="M127.50 365.28L132.50 365.28L130.00 361.38Z" fill="#888"/>
<path d="M135.50 370.35L140.50 370.35L138.00 366.45Z" fill="#888"/>
<path d="M143.50 378.61L148.50 378.61L146.00 374.71Z" fill="#888"/>
<path d="M149.50 382.64L154.50 382.64L152.00 378.74Z" fill="#888"/>
<path d="M155.50 389.12L160.50 389.12L158.00 385.22Z" fill="#888"/>
<path d="M92.40 338.47L97.60 338.47L95.00 342.53Z" fill="#141414"/>
<path d="M102.40 342.47L107.60 342.47L105.00 346.53Z" fill="#141414"/>
<path d="M111.80 348.47L117.00 348.47L114.40 352.53Z" fill="#141414"/>
<path d="M117.90 352.57L123.10 352.57L120.50 356.63Z" fill="#141414"/>
<path d="M123.10 357.77L128.30 357.77L125.70 361.83Z" fill="#141414"/>
<path d="M128.20 361.87L133.40 361.87L130.80 365.93Z" fill="#141414"/>
<path d="M135.40 367.97L140.60 367.97L138.00 372.03Z" fill="#141414"/>
<path d="M140.50 372.07L145.70 372.07L143.10 376.13Z" fill="#141414"/>
<path d="M145.70 378.27L150.90 378.27L148.30 382.33Z" fill="#141414"/>
<path d="M146.80 379.27L152.00 379.27L149.40 383.33Z" fill="#141414"/>
<path d="M158.00 390.27L163.20 390.27L160.60 394.33Z" fill="#141414"/>
<rect x="60.39" y="333.59" width="4.416" height="4.416" fill="#141414"/>
<rect x="72.09" y="334.79" width="4.416" height="4.416" fill="#141414"/>
<rect x="79.09" y="334.29" width="4.416" height="4.416" fill="#141414"/>
<rect x="88.09" y="337.99" width="4.416" height="4.416" fill="#141414"/>
<rect x="98.99" y="342.69" width="4.416" height="4.416" fill="#141414"/>
<rect x="110.69" y="349.09" width="4.416" height="4.416" fill="#141414"/>
<rect x="116.19" y="352.79" width="4.416" height="4.416" fill="#141414"/>
<rect x="124.49" y="358.59" width="4.416" height="4.416" fill="#141414"/>
<rect x="125.49" y="361.69" width="4.416" height="4.416" fill="#141414"/>
<rect x="129.59" y="364.79" width="4.416" height="4.416" fill="#141414"/>
<rect x="131.69" y="367.79" width="4.416" height="4.416" fill="#141414"/>
<rect x="136.79" y="369.89" width="4.416" height="4.416" fill="#141414"/>
<rect x="138.99" y="373.09" width="4.416" height="4.416" fill="#141414"/>
<rect x="138.99" y="376.39" width="4.416" height="4.416" fill="#141414"/>
<rect x="150.99" y="386.39" width="4.416" height="4.416" fill="#141414"/>
<rect x="158.99" y="394.39" width="4.416" height="4.416" fill="#141414"/>
<polyline points="215.30,336.56 217.81,336.69 220.32,336.84 222.84,336.99 225.35,337.17 227.86,337.36 230.37,337.57 232.88,337.79 235.39,338.04 237.91,338.31 240.42,338.60 242.93,338.91 245.44,339.26 247.95,339.63 250.46,340.04 252.98,340.48 255.49,340.96 258.00,341.48 260.51,342.04 263.02,342.65 265.53,343.30 268.05,344.01 270.56,344.77 273.07,345.58 275.58,346.45 278.09,347.39 280.60,348.39 283.12,349.46 285.63,350.60 288.14,351.80 290.65,353.08 293.16,354.43 295.67,355.86 298.19,357.35 300.70,358.92 303.21,360.56 305.72,362.26 308.23,364.03 310.74,365.86 313.25,367.74 315.77,369.67 318.28,371.64 320.79,373.65 323.30,375.68 325.81,377.74 328.32,379.81 330.84,381.88 333.35,383.94 335.86,385.99 338.37,388.02 340.88,390.01 343.39,391.97 345.91,393.89 348.42,395.75 350.93,397.55 353.44,399.30 355.95,400.98 358.47,402.59 360.98,404.13 363.49,405.60 366.00,407.00" fill="none" stroke="#c8c8c8" stroke-width="0.8"/>
<polyline points="215.30,336.67 217.81,336.81 220.32,336.97 222.84,337.14 225.35,337.33 227.86,337.53 230.37,337.75 232.88,338.00 235.39,338.26 237.91,338.55 240.42,338.86 242.93,339.20 245.44,339.57 247.95,339.97 250.46,340.41 252.98,340.88 255.49,341.39 258.00,341.94 260.51,342.54 263.02,343.18 265.53,343.88 268.05,344.62 270.56,345.43 273.07,346.29 275.58,347.21 278.09,348.20 280.60,349.25 283.12,350.37 285.63,351.56 288.14,352.82 290.65,354.16 293.16,355.57 295.67,357.05 298.19,358.60 300.70,360.22 303.21,361.90 305.72,363.65 308.23,365.47 310.74,367.33 313.25,369.25 315.77,371.21 318.28,373.21 320.79,375.24 323.30,377.29 325.81,379.35 328.32,381.41 330.84,383.48 333.35,385.53 335.86,387.56 338.37,389.56 340.88,391.52 343.39,393.44 345.91,395.31 348.42,397.13 350.93,398.89 353.44,400.58 355.95,402.20 358.47,403.76 360.98,405.25 363.49,406.66 366.00,408.00" fill="none" stroke="#9c9c9c" stroke-width="0.8"/>
<polyline points="215.30,336.70 217.81,336.85 220.32,337.01 222.84,337.19 225.35,337.39 227.86,337.60 230.37,337.83 232.88,338.08 235.39,338.35 237.91,338.65 240.42,338.98 242.93,339.33 245.44,339.72 247.95,340.14 250.46,340.59 252.98,341.09 255.49,341.62 258.00,342.20 260.51,342.82 263.02,343.50 265.53,344.22 268.05,345.01 270.56,345.85 273.07,346.75 275.58,347.72 278.09,348.75 280.60,349.85 283.12,351.03 285.63,352.27 288.14,353.59 290.65,354.98 293.16,356.45 295.67,357.99 298.19,359.61 300.70,361.29 303.21,363.04 305.72,364.85 308.23,366.72 310.74,368.65 313.25,370.62 315.77,372.63 318.28,374.67 320.79,376.74 323.30,378.82 325.81,380.91 328.32,383.00 330.84,385.08 333.35,387.14 335.86,389.17 338.37,391.16 340.88,393.11 343.39,395.02 345.91,396.86 348.42,398.65 350.93,400.37 353.44,402.02 355.95,403.61 358.47,405.12 360.98,406.55 363.49,407.91 366.00,409.20" fill="none" stroke="#555" stroke-width="0.8"/>
<polyline points="215.30,336.70 217.81,336.86 220.32,337.02 222.84,337.20 225.35,337.40 227.86,337.62 230.37,337.86 232.88,338.12 235.39,338.40 237.91,338.71 240.42,339.05 242.93,339.41 245.44,339.81 247.95,340.25 250.46,340.72 252.98,341.23 255.49,341.79 258.00,342.39 260.51,343.04 263.02,343.75 265.53,344.51 268.05,345.33 270.56,346.21 273.07,347.15 275.58,348.16 278.09,349.25 280.60,350.40 283.12,351.63 285.63,352.94 288.14,354.32 290.65,355.77 293.16,357.31 295.67,358.92 298.19,360.60 300.70,362.36 303.21,364.18 305.72,366.06 308.23,368.00 310.74,369.99 313.25,372.03 315.77,374.10 318.28,376.20 320.79,378.31 323.30,380.44 325.81,382.56 328.32,384.68 330.84,386.78 333.35,388.85 335.86,390.89 338.37,392.88 340.88,394.82 343.39,396.71 345.91,398.53 348.42,400.28 350.93,401.97 353.44,403.58 355.95,405.12 358.47,406.58 360.98,407.96 363.49,409.27 366.00,410.50" fill="none" stroke="#444" stroke-width="0.8" stroke-dasharray="1.2 1.2"/>
<polyline points="215.30,336.68 217.81,336.83 220.32,337.00 222.84,337.18 225.35,337.38 227.86,337.60 230.37,337.84 232.88,338.11 235.39,338.40 237.91,338.71 240.42,339.06 242.93,339.43 245.44,339.84 247.95,340.29 250.46,340.78 252.98,341.31 255.49,341.88 258.00,342.51 260.51,343.18 263.02,343.91 265.53,344.71 268.05,345.56 270.56,346.48 273.07,347.46 275.58,348.52 278.09,349.65 280.60,350.86 283.12,352.15 285.63,353.51 288.14,354.96 290.65,356.49 293.16,358.09 295.67,359.77 298.19,361.53 300.70,363.36 303.21,365.26 305.72,367.22 308.23,369.24 310.74,371.30 313.25,373.41 315.77,375.54 318.28,377.70 320.79,379.87 323.30,382.04 325.81,384.21 328.32,386.36 330.84,388.48 333.35,390.57 335.86,392.61 338.37,394.60 340.88,396.54 343.39,398.40 345.91,400.20 348.42,401.93 350.93,403.58 353.44,405.15 355.95,406.64 358.47,408.05 360.98,409.38 363.49,410.63 366.00,411.80" fill="none" stroke="#333" stroke-width="0.8" stroke-dasharray="1.2 1.2"/>
<polyline points="215.30,336.45 217.81,336.59 220.32,336.74 222.84,336.91 225.35,337.10 227.86,337.31 230.37,337.53 232.88,337.78 235.39,338.06 237.91,338.36 240.42,338.70 242.93,339.07 245.44,339.47 247.95,339.91 250.46,340.40 252.98,340.93 255.49,341.51 258.00,342.14 260.51,342.83 263.02,343.58 265.53,344.40 268.05,345.29 270.56,346.25 273.07,347.28 275.58,348.40 278.09,349.60 280.60,350.89 283.12,352.27 285.63,353.73 288.14,355.29 290.65,356.94 293.16,358.68 295.67,360.51 298.19,362.42 300.70,364.41 303.21,366.47 305.72,368.60 308.23,370.79 310.74,373.02 313.25,375.30 315.77,377.60 318.28,379.91 320.79,382.23 323.30,384.54 325.81,386.83 328.32,389.08 330.84,391.29 333.35,393.45 335.86,395.55 338.37,397.57 340.88,399.52 343.39,401.39 345.91,403.17 348.42,404.86 350.93,406.47 353.44,407.98 355.95,409.40 358.47,410.73 360.98,411.97 363.49,413.13 366.00,414.20" fill="none" stroke="#111" stroke-width="0.9"/>
<rect x="263.08" y="338.70" width="4.232" height="4.232" fill="#d2d2d2"/>
<rect x="273.98" y="340.73" width="4.232" height="4.232" fill="#d2d2d2"/>
<rect x="281.28" y="344.77" width="4.232" height="4.232" fill="#d2d2d2"/>
<rect x="289.88" y="348.28" width="4.232" height="4.232" fill="#d2d2d2"/>
<rect x="297.88" y="354.26" width="4.232" height="4.232" fill="#d2d2d2"/>
<rect x="305.88" y="358.15" width="4.232" height="4.232" fill="#d2d2d2"/>
<rect x="313.88" y="365.33" width="4.232" height="4.232" fill="#d2d2d2"/>
<rect x="321.88" y="370.34" width="4.232" height="4.232" fill="#d2d2d2"/>
<rect x="238.16" y="335.18" width="3.68" height="3.68" fill="#fff" stroke="#808080" stroke-width="0.75"/>
<rect x="266.16" y="339.85" width="3.68" height="3.68" fill="#fff" stroke="#808080" stroke-width="0.75"/>
<rect x="288.16" y="350.58" width="3.68" height="3.68" fill="#fff" stroke="#808080" stroke-width="0.75"/>
<rect x="304.16" y="360.32" width="3.68" height="3.68" fill="#fff" stroke="#808080" stroke-width="0.75"/>
<rect x="318.16" y="372.65" width="3.68" height="3.68" fill="#fff" stroke="#808080" stroke-width="0.75"/>
<rect x="324.56" y="376.46" width="3.68" height="3.68" fill="#fff" stroke="#808080" stroke-width="0.75"/>
<rect x="335.46" y="386.57" width="3.68" height="3.68" fill="#fff" stroke="#808080" stroke-width="0.75"/>
<rect x="340.96" y="389.43" width="3.68" height="3.68" fill="#fff" stroke="#808080" stroke-width="0.75"/>
<rect x="347.16" y="395.01" width="3.68" height="3.68" fill="#fff" stroke="#808080" stroke-width="0.75"/>
<circle cx="261.50" cy="340.19" r="2.28" fill="#ababab"/>
<circle cx="272.00" cy="341.91" r="2.28" fill="#ababab"/>
<circle cx="281.00" cy="346.52" r="2.28" fill="#ababab"/>
<circle cx="288.50" cy="349.41" r="2.28" fill="#ababab"/>
<circle cx="294.00" cy="353.75" r="2.28" fill="#ababab"/>
<circle cx="299.00" cy="355.31" r="2.28" fill="#ababab"/>
<circle cx="304.00" cy="359.85" r="2.28" fill="#ababab"/>
<circle cx="309.00" cy="362.03" r="2.28" fill="#ababab"/>
<circle cx="314.00" cy="366.93" r="2.28" fill="#ababab"/>
<circle cx="319.00" cy="370.19" r="2.28" fill="#ababab"/>
<circle cx="324.00" cy="375.56" r="2.28" fill="#ababab"/>
<circle cx="329.00" cy="378.17" r="2.28" fill="#ababab"/>
<circle cx="334.00" cy="383.45" r="2.28" fill="#ababab"/>
<path d="M255.50 342.94L260.50 342.94L258.00 339.04Z" fill="#888"/>
<path d="M271.50 346.67L276.50 346.67L274.00 342.77Z" fill="#888"/>
<path d="M283.50 353.39L288.50 353.39L286.00 349.49Z" fill="#888"/>
<path d="M292.50 358.03L297.50 358.03L295.00 354.13Z" fill="#888"/>
<path d="M300.50 364.87L305.50 364.87L303.00 360.97Z" fill="#888"/>
<path d="M307.50 368.75L312.50 368.75L310.00 364.85Z" fill="#888"/>
<path d="M314.50 375.67L319.50 375.67L317.00 371.77Z" fill="#888"/>
<path d="M320.50 379.33L325.50 379.33L323.00 375.43Z" fill="#888"/>
<path d="M330.50 388.82L335.50 388.82L333.00 384.92Z" fill="#888"/>
<path d="M258.90 338.17L264.10 338.17L261.50 342.23Z" fill="#141414"/>
<path d="M275.40 342.97L280.60 342.97L278.00 347.03Z" fill="#141414"/>
<path d="M285.80 348.47L291.00 348.47L288.40 352.53Z" fill="#141414"/>
<path d="M291.00 351.57L296.20 351.57L293.60 355.63Z" fill="#141414"/>
<path d="M296.10 355.67L301.30 355.67L298.70 359.73Z" fill="#141414"/>
<path d="M300.20 359.77L305.40 359.77L302.80 363.83Z" fill="#141414"/>
<path d="M305.30 363.87L310.50 363.87L307.90 367.93Z" fill="#141414"/>
<path d="M310.50 367.97L315.70 367.97L313.10 372.03Z" fill="#141414"/>
<path d="M317.70 373.17L322.90 373.17L320.30 377.23Z" fill="#141414"/>
<path d="M324.80 379.27L330.00 379.27L327.40 383.33Z" fill="#141414"/>
<rect x="231.29" y="332.19" width="4.416" height="4.416" fill="#141414"/>
<rect x="245.49" y="333.19" width="4.416" height="4.416" fill="#141414"/>
<rect x="250.39" y="333.59" width="4.416" height="4.416" fill="#141414"/>
<rect x="268.49" y="341.59" width="4.416" height="4.416" fill="#141414"/>
<rect x="279.99" y="347.39" width="4.416" height="4.416" fill="#141414"/>
<rect x="287.09" y="351.19" width="4.416" height="4.416" fill="#141414"/>
<rect x="297.49" y="358.59" width="4.416" height="4.416" fill="#141414"/>
<rect x="301.59" y="362.69" width="4.416" height="4.416" fill="#141414"/>
<rect x="304.69" y="364.79" width="4.416" height="4.416" fill="#141414"/>
<rect x="308.79" y="367.79" width="4.416" height="4.416" fill="#141414"/>
<rect x="311.89" y="371.89" width="4.416" height="4.416" fill="#141414"/>
<rect x="320.09" y="379.09" width="4.416" height="4.416" fill="#141414"/>
<rect x="328.29" y="386.69" width="4.416" height="4.416" fill="#141414"/>
<polyline points="387.20,335.89 389.70,335.96 392.21,336.04 394.71,336.13 397.22,336.23 399.72,336.34 402.23,336.46 404.74,336.59 407.24,336.73 409.75,336.89 412.25,337.06 414.75,337.25 417.26,337.45 419.76,337.68 422.27,337.92 424.77,338.19 427.28,338.49 429.78,338.81 432.29,339.16 434.80,339.54 437.30,339.96 439.81,340.41 442.31,340.91 444.81,341.44 447.32,342.02 449.82,342.65 452.33,343.34 454.83,344.07 457.34,344.87 459.85,345.73 462.35,346.65 464.86,347.64 467.36,348.71 469.87,349.84 472.37,351.05 474.88,352.34 477.38,353.71 479.88,355.15 482.39,356.67 484.89,358.28 487.40,359.95 489.90,361.71 492.41,363.53 494.91,365.41 497.42,367.36 499.93,369.37 502.43,371.42 504.94,373.50 507.44,375.62 509.94,377.77 512.45,379.92 514.96,382.08 517.46,384.22 519.97,386.36 522.47,388.46 524.98,390.53 527.48,392.56 529.99,394.54 532.49,396.46 535.00,398.31 537.50,400.10" fill="none" stroke="#111" stroke-width="0.9"/>
<polyline points="387.20,335.98 389.70,336.06 392.21,336.15 394.71,336.25 397.22,336.36 399.72,336.48 402.23,336.61 404.74,336.75 407.24,336.91 409.75,337.08 412.25,337.27 414.75,337.48 417.26,337.71 419.76,337.95 422.27,338.23 424.77,338.52 427.28,338.84 429.78,339.20 432.29,339.58 434.80,340.00 437.30,340.45 439.81,340.94 442.31,341.48 444.81,342.06 447.32,342.69 449.82,343.38 452.33,344.11 454.83,344.91 457.34,345.77 459.85,346.69 462.35,347.68 464.86,348.73 467.36,349.86 469.87,351.07 472.37,352.35 474.88,353.71 477.38,355.15 479.88,356.66 482.39,358.26 484.89,359.92 487.40,361.66 489.90,363.47 492.41,365.35 494.91,367.29 497.42,369.28 499.93,371.31 502.43,373.39 504.94,375.50 507.44,377.63 509.94,379.77 512.45,381.91 514.96,384.05 517.46,386.17 519.97,388.27 522.47,390.33 524.98,392.36 527.48,394.33 529.99,396.24 532.49,398.10 535.00,399.88 537.50,401.60" fill="none" stroke="#9c9c9c" stroke-width="0.8"/>
<polyline points="387.20,336.08 389.70,336.18 392.21,336.28 394.71,336.39 397.22,336.51 399.72,336.64 402.23,336.79 404.74,336.95 407.24,337.13 409.75,337.32 412.25,337.53 414.75,337.76 417.26,338.01 419.76,338.28 422.27,338.58 424.77,338.91 427.28,339.27 429.78,339.65 432.29,340.08 434.80,340.53 437.30,341.03 439.81,341.57 442.31,342.16 444.81,342.80 447.32,343.48 449.82,344.23 452.33,345.03 454.83,345.89 457.34,346.81 459.85,347.80 462.35,348.87 464.86,350.00 467.36,351.21 469.87,352.49 472.37,353.85 474.88,355.29 477.38,356.81 479.88,358.40 482.39,360.06 484.89,361.80 487.40,363.61 489.90,365.48 492.41,367.41 494.91,369.39 497.42,371.42 499.93,373.49 502.43,375.59 504.94,377.71 507.44,379.84 509.94,381.97 512.45,384.10 514.96,386.21 517.46,388.30 519.97,390.35 522.47,392.36 524.98,394.33 527.48,396.23 529.99,398.08 532.49,399.86 535.00,401.56 537.50,403.20" fill="none" stroke="#c8c8c8" stroke-width="0.8"/>
<polyline points="387.20,336.24 389.70,336.35 392.21,336.46 394.71,336.59 397.22,336.73 399.72,336.88 402.23,337.05 404.74,337.23 407.24,337.43 409.75,337.65 412.25,337.89 414.75,338.15 417.26,338.43 419.76,338.74 422.27,339.08 424.77,339.45 427.28,339.85 429.78,340.28 432.29,340.75 434.80,341.26 437.30,341.82 439.81,342.42 442.31,343.06 444.81,343.76 447.32,344.52 449.82,345.33 452.33,346.21 454.83,347.14 457.34,348.15 459.85,349.22 462.35,350.36 464.86,351.58 467.36,352.87 469.87,354.24 472.37,355.68 474.88,357.19 477.38,358.79 479.88,360.45 482.39,362.18 484.89,363.98 487.40,365.84 489.90,367.76 492.41,369.73 494.91,371.74 497.42,373.79 499.93,375.87 502.43,377.97 504.94,380.07 507.44,382.18 509.94,384.29 512.45,386.37 514.96,388.43 517.46,390.46 519.97,392.45 522.47,394.38 524.98,396.27 527.48,398.09 529.99,399.85 532.49,401.54 535.00,403.16 537.50,404.70" fill="none" stroke="#444" stroke-width="0.8" stroke-dasharray="1.2 1.2"/>
<polyline points="387.20,336.47 389.70,336.60 392.21,336.73 394.71,336.88 397.22,337.05 399.72,337.23 402.23,337.42 404.74,337.64 407.24,337.87 409.75,338.12 412.25,338.40 414.75,338.70 417.26,339.03 419.76,339.38 422.27,339.77 424.77,340.19 427.28,340.64 429.78,341.14 432.29,341.67 434.80,342.25 437.30,342.87 439.81,343.54 442.31,344.27 444.81,345.05 447.32,345.88 449.82,346.78 452.33,347.74 454.83,348.77 457.34,349.86 459.85,351.03 462.35,352.26 464.86,353.57 467.36,354.95 469.87,356.41 472.37,357.93 474.88,359.53 477.38,361.19 479.88,362.93 482.39,364.72 484.89,366.57 487.40,368.48 489.90,370.43 492.41,372.42 494.91,374.44 497.42,376.49 499.93,378.55 502.43,380.63 504.94,382.70 507.44,384.76 509.94,386.81 512.45,388.83 514.96,390.81 517.46,392.76 519.97,394.65 522.47,396.50 524.98,398.28 527.48,400.00 529.99,401.66 532.49,403.24 535.00,404.76 537.50,406.20" fill="none" stroke="#777" stroke-width="0.8"/>
<polyline points="387.20,336.46 389.70,336.59 392.21,336.73 394.71,336.89 397.22,337.06 399.72,337.25 402.23,337.45 404.74,337.67 407.24,337.92 409.75,338.19 412.25,338.48 414.75,338.80 417.26,339.14 419.76,339.52 422.27,339.94 424.77,340.39 427.28,340.88 429.78,341.41 432.29,341.98 434.80,342.61 437.30,343.28 439.81,344.01 442.31,344.80 444.81,345.65 447.32,346.56 449.82,347.54 452.33,348.59 454.83,349.72 457.34,350.91 459.85,352.18 462.35,353.53 464.86,354.96 467.36,356.47 469.87,358.05 472.37,359.71 474.88,361.45 477.38,363.25 479.88,365.12 482.39,367.05 484.89,369.03 487.40,371.07 489.90,373.14 492.41,375.25 494.91,377.38 497.42,379.52 499.93,381.66 502.43,383.81 504.94,385.93 507.44,388.03 509.94,390.10 512.45,392.13 514.96,394.11 517.46,396.03 519.97,397.90 522.47,399.69 524.98,401.42 527.48,403.07 529.99,404.64 532.49,406.14 535.00,407.56 537.50,408.90" fill="none" stroke="#111" stroke-width="0.9"/>
<rect x="427.88" y="337.17" width="4.232" height="4.232" fill="#d2d2d2"/>
<rect x="441.88" y="338.67" width="4.232" height="4.232" fill="#d2d2d2"/>
<rect x="452.88" y="343.13" width="4.232" height="4.232" fill="#d2d2d2"/>
<rect x="463.88" y="347.03" width="4.232" height="4.232" fill="#d2d2d2"/>
<rect x="472.88" y="353.15" width="4.232" height="4.232" fill="#d2d2d2"/>
<rect x="480.88" y="356.76" width="4.232" height="4.232" fill="#d2d2d2"/>
<rect x="488.88" y="363.80" width="4.232" height="4.232" fill="#d2d2d2"/>
<circle cx="424.10" cy="338.04" r="2.28" fill="#ababab"/>
<circle cx="440.00" cy="339.18" r="2.28" fill="#ababab"/>
<circle cx="452.00" cy="343.31" r="2.28" fill="#ababab"/>
<circle cx="463.00" cy="346.54" r="2.28" fill="#ababab"/>
<circle cx="468.00" cy="350.07" r="2.28" fill="#ababab"/>
<circle cx="472.00" cy="350.56" r="2.28" fill="#ababab"/>
<circle cx="476.00" cy="353.95" r="2.28" fill="#ababab"/>
<circle cx="480.00" cy="354.93" r="2.28" fill="#ababab"/>
<circle cx="484.00" cy="358.62" r="2.28" fill="#ababab"/>
<circle cx="488.00" cy="360.69" r="2.28" fill="#ababab"/>
<circle cx="492.00" cy="364.94" r="2.28" fill="#ababab"/>
<circle cx="520.50" cy="387.11" r="2.28" fill="#ababab"/>
<rect x="416.16" y="333.68" width="3.68" height="3.68" fill="#fff" stroke="#808080" stroke-width="0.75"/>
<rect x="445.16" y="339.21" width="3.68" height="3.68" fill="#fff" stroke="#808080" stroke-width="0.75"/>
<rect x="458.16" y="341.65" width="3.68" height="3.68" fill="#fff" stroke="#808080" stroke-width="0.75"/>
<rect x="468.16" y="346.97" width="3.68" height="3.68" fill="#fff" stroke="#808080" stroke-width="0.75"/>
<rect x="477.16" y="350.79" width="3.68" height="3.68" fill="#fff" stroke="#808080" stroke-width="0.75"/>
<rect x="485.26" y="357.01" width="3.68" height="3.68" fill="#fff" stroke="#808080" stroke-width="0.75"/>
<rect x="488.96" y="358.21" width="3.68" height="3.68" fill="#fff" stroke="#808080" stroke-width="0.75"/>
<rect x="497.56" y="366.00" width="3.68" height="3.68" fill="#fff" stroke="#808080" stroke-width="0.75"/>
<rect x="504.76" y="371.07" width="3.68" height="3.68" fill="#fff" stroke="#808080" stroke-width="0.75"/>
<rect x="510.76" y="377.31" width="3.68" height="3.68" fill="#fff" stroke="#808080" stroke-width="0.75"/>
<path d="M407.00 337.18L412.00 337.18L409.50 333.28Z" fill="#888"/>
<path d="M434.50 339.90L439.50 339.90L437.00 336.00Z" fill="#888"/>
<path d="M447.50 344.64L452.50 344.64L450.00 340.74Z" fill="#888"/>
<path d="M458.50 348.29L463.50 348.29L461.00 344.39Z" fill="#888"/>
<path d="M467.50 354.16L472.50 354.16L470.00 350.26Z" fill="#888"/>
<path d="M475.50 357.54L480.50 357.54L478.00 353.64Z" fill="#888"/>
<path d="M483.50 364.35L488.50 364.35L486.00 360.45Z" fill="#888"/>
<path d="M491.50 369.15L496.50 369.15L494.00 365.25Z" fill="#888"/>
<path d="M506.10 382.41L511.10 382.41L508.60 378.51Z" fill="#888"/>
<path d="M437.40 338.47L442.60 338.47L440.00 342.53Z" fill="#141414"/>
<path d="M449.40 343.47L454.60 343.47L452.00 347.53Z" fill="#141414"/>
<path d="M460.90 348.47L466.10 348.47L463.50 352.53Z" fill="#141414"/>
<path d="M467.00 351.57L472.20 351.57L469.60 355.63Z" fill="#141414"/>
<path d="M473.20 355.67L478.40 355.67L475.80 359.73Z" fill="#141414"/>
<path d="M476.30 358.77L481.50 358.77L478.90 362.83Z" fill="#141414"/>
<path d="M481.40 361.87L486.60 361.87L484.00 365.93Z" fill="#141414"/>
<path d="M486.80 366.57L492.00 366.57L489.40 370.63Z" fill="#141414"/>
<path d="M502.90 379.77L508.10 379.77L505.50 383.83Z" fill="#141414"/>
<rect x="400.49" y="332.59" width="4.416" height="4.416" fill="#141414"/>
<rect x="410.29" y="332.89" width="4.416" height="4.416" fill="#141414"/>
<rect x="428.39" y="335.09" width="4.416" height="4.416" fill="#141414"/>
<rect x="432.79" y="335.09" width="4.416" height="4.416" fill="#141414"/>
<rect x="447.29" y="342.29" width="4.416" height="4.416" fill="#141414"/>
<rect x="454.19" y="346.19" width="4.416" height="4.416" fill="#141414"/>
<rect x="462.39" y="351.79" width="4.416" height="4.416" fill="#141414"/>
<rect x="469.49" y="357.59" width="4.416" height="4.416" fill="#141414"/>
<rect x="475.69" y="361.69" width="4.416" height="4.416" fill="#141414"/>
<rect x="479.79" y="364.79" width="4.416" height="4.416" fill="#141414"/>
<rect x="483.89" y="366.79" width="4.416" height="4.416" fill="#141414"/>
<rect x="491.39" y="374.79" width="4.416" height="4.416" fill="#141414"/>
<rect x="498.39" y="380.19" width="4.416" height="4.416" fill="#141414"/>
</svg>
</body></html>
